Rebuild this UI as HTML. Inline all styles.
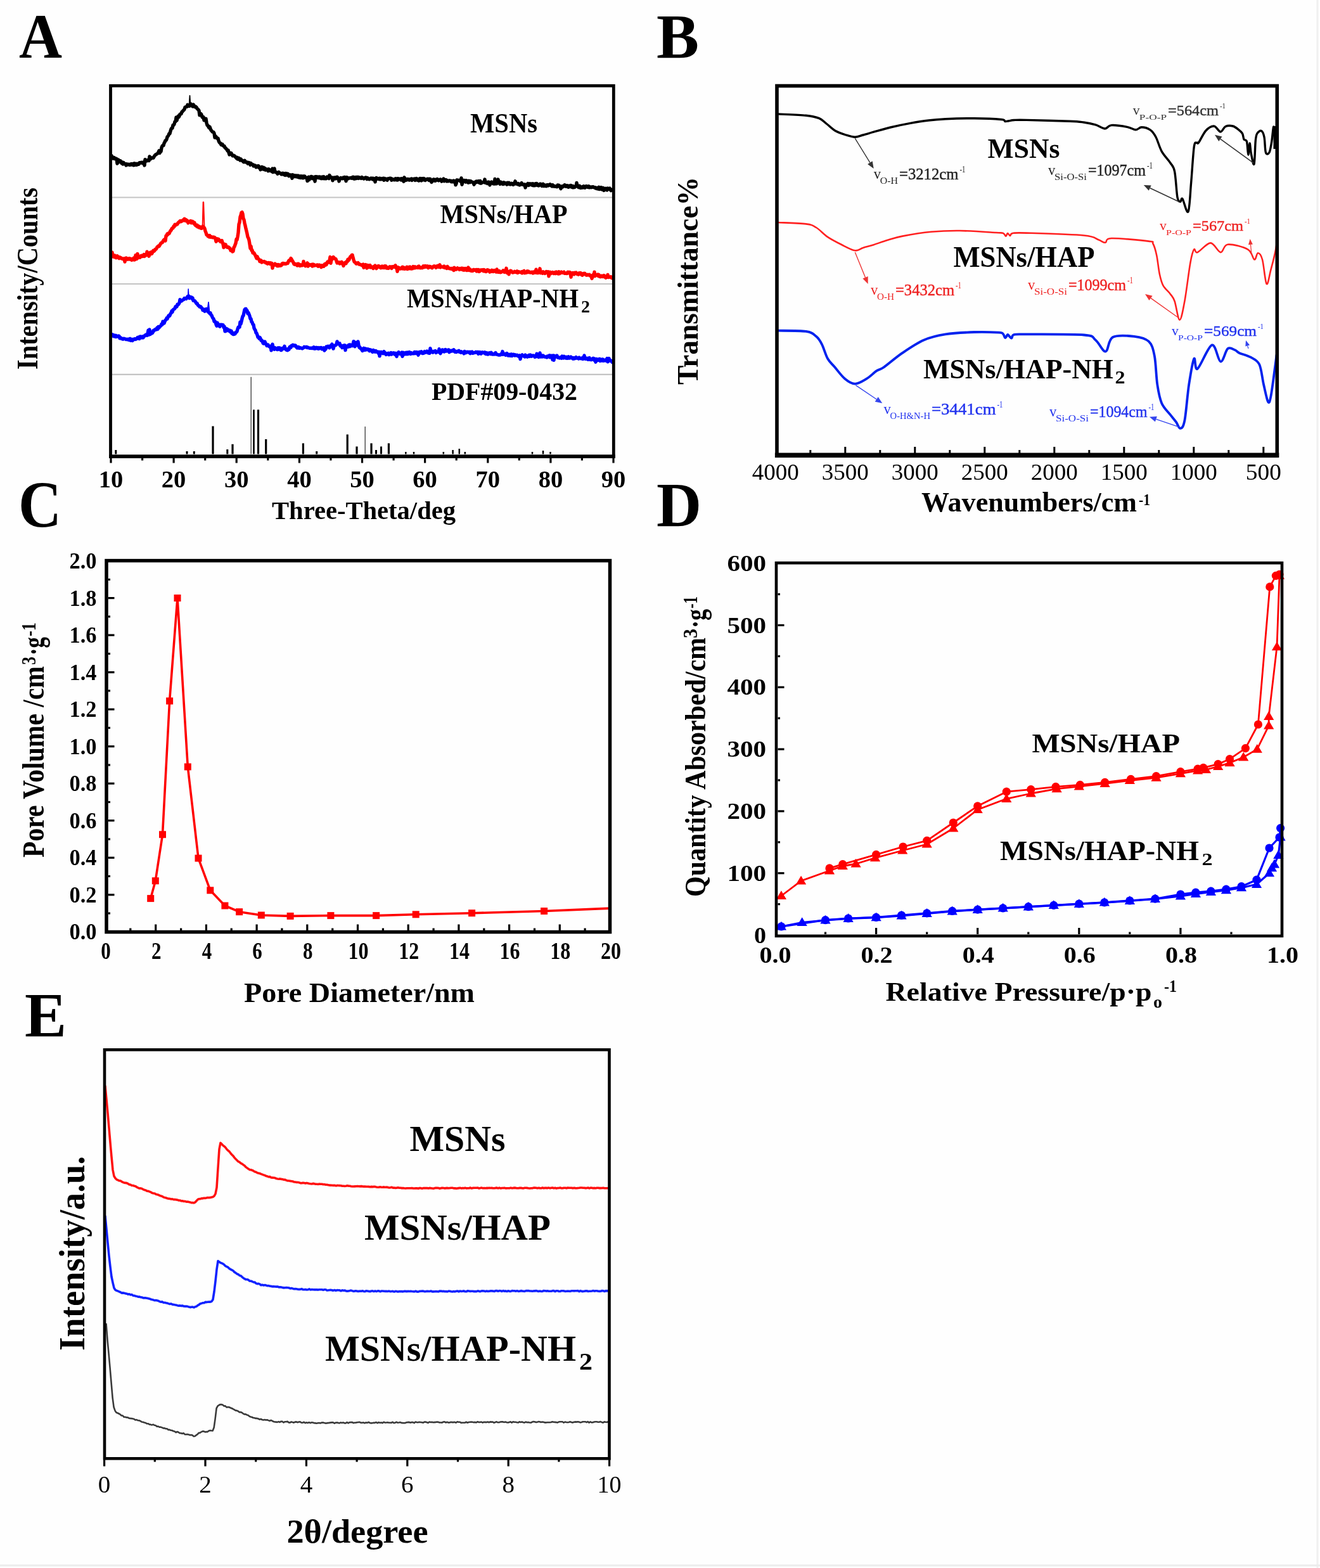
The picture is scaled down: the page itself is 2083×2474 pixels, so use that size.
<!DOCTYPE html>
<html><head><meta charset="utf-8"><title>Figure</title>
<style>html,body{margin:0;padding:0;background:#fefefe;overflow:hidden;}svg{display:block;}</style>
</head><body>
<svg width="2083" height="2474" viewBox="0 0 2083 2474" font-family="'Liberation Serif', 'Times New Roman', serif">
<rect x="0" y="0" width="2083" height="2474" fill="#fefefe"/>
<line x1="2079.0" y1="0.0" x2="2079.0" y2="2474.0" stroke="#f0f0f0" stroke-width="3.0"/>
<line x1="0.0" y1="2470.0" x2="2083.0" y2="2470.0" stroke="#ececec" stroke-width="3.0"/>
<text x="30.0" y="91.0" font-size="100.0" font-weight="bold" text-anchor="start" fill="#000" textLength="68.0" lengthAdjust="spacingAndGlyphs">A</text>
<text x="1036.0" y="91.0" font-size="100.0" font-weight="bold" text-anchor="start" fill="#000" textLength="67.0" lengthAdjust="spacingAndGlyphs">B</text>
<text x="29.0" y="831.0" font-size="104.0" font-weight="bold" text-anchor="start" fill="#000" textLength="68.0" lengthAdjust="spacingAndGlyphs">C</text>
<text x="1036.0" y="830.0" font-size="100.0" font-weight="bold" text-anchor="start" fill="#000" textLength="71.0" lengthAdjust="spacingAndGlyphs">D</text>
<text x="39.0" y="1635.0" font-size="100.0" font-weight="bold" text-anchor="start" fill="#000" textLength="66.0" lengthAdjust="spacingAndGlyphs">E</text>
<line x1="177.0" y1="311.5" x2="966.0" y2="311.5" stroke="#c4c4c4" stroke-width="2.2"/>
<line x1="177.0" y1="448.0" x2="966.0" y2="448.0" stroke="#c4c4c4" stroke-width="2.2"/>
<line x1="177.0" y1="590.8" x2="966.0" y2="590.8" stroke="#c4c4c4" stroke-width="2.2"/>
<line x1="182.8" y1="716.5" x2="182.8" y2="710.0" stroke="#000" stroke-width="3.0"/>
<line x1="295.0" y1="716.5" x2="295.0" y2="712.0" stroke="#000" stroke-width="3.0"/>
<line x1="306.3" y1="716.5" x2="306.3" y2="712.0" stroke="#000" stroke-width="3.0"/>
<line x1="336.0" y1="716.5" x2="336.0" y2="672.4" stroke="#000" stroke-width="3.2"/>
<line x1="358.8" y1="716.5" x2="358.8" y2="709.0" stroke="#000" stroke-width="3.0"/>
<line x1="367.0" y1="716.5" x2="367.0" y2="700.8" stroke="#000" stroke-width="3.2"/>
<line x1="396.2" y1="716.5" x2="396.2" y2="594.8" stroke="#444" stroke-width="1.4"/>
<line x1="400.5" y1="716.5" x2="400.5" y2="646.4" stroke="#000" stroke-width="2.6"/>
<line x1="407.5" y1="716.5" x2="407.5" y2="646.4" stroke="#000" stroke-width="3.2"/>
<line x1="419.7" y1="716.5" x2="419.7" y2="693.0" stroke="#000" stroke-width="3.2"/>
<line x1="478.4" y1="716.5" x2="478.4" y2="699.4" stroke="#000" stroke-width="3.2"/>
<line x1="499.7" y1="716.5" x2="499.7" y2="712.0" stroke="#000" stroke-width="3.0"/>
<line x1="548.2" y1="716.5" x2="548.2" y2="685.5" stroke="#000" stroke-width="3.2"/>
<line x1="563.0" y1="716.5" x2="563.0" y2="704.5" stroke="#000" stroke-width="3.2"/>
<line x1="576.2" y1="716.5" x2="576.2" y2="673.0" stroke="#444" stroke-width="1.4"/>
<line x1="586.0" y1="716.5" x2="586.0" y2="699.4" stroke="#000" stroke-width="3.2"/>
<line x1="593.5" y1="716.5" x2="593.5" y2="710.0" stroke="#000" stroke-width="3.0"/>
<line x1="601.5" y1="716.5" x2="601.5" y2="704.5" stroke="#000" stroke-width="3.0"/>
<line x1="613.4" y1="716.5" x2="613.4" y2="699.4" stroke="#000" stroke-width="3.2"/>
<line x1="640.3" y1="716.5" x2="640.3" y2="713.0" stroke="#000" stroke-width="2.5"/>
<line x1="653.0" y1="716.5" x2="653.0" y2="713.0" stroke="#000" stroke-width="2.5"/>
<line x1="699.8" y1="716.5" x2="699.8" y2="713.0" stroke="#000" stroke-width="2.5"/>
<line x1="714.6" y1="716.5" x2="714.6" y2="710.0" stroke="#000" stroke-width="2.5"/>
<line x1="724.8" y1="716.5" x2="724.8" y2="708.0" stroke="#000" stroke-width="2.5"/>
<line x1="733.8" y1="716.5" x2="733.8" y2="713.0" stroke="#000" stroke-width="2.5"/>
<line x1="840.0" y1="716.5" x2="840.0" y2="713.0" stroke="#000" stroke-width="2.5"/>
<line x1="857.0" y1="716.5" x2="857.0" y2="711.0" stroke="#000" stroke-width="2.5"/>
<line x1="868.5" y1="716.5" x2="868.5" y2="713.0" stroke="#000" stroke-width="2.5"/>
<polyline points="176.0,245.6 177.0,247.4 178.0,249.9 179.0,248.8 180.0,248.5 181.0,250.5 182.0,250.0 183.0,250.2 184.0,250.5 185.0,258.1 186.0,251.8 187.0,252.1 188.0,255.4 189.0,254.0 190.0,253.8 191.0,255.5 192.0,257.7 193.0,255.9 194.0,258.9 195.0,256.5 196.0,258.5 197.0,258.2 198.0,258.8 199.0,260.9 200.0,258.7 201.0,259.3 202.0,259.9 203.0,259.1 204.0,259.3 205.0,260.3 206.0,259.6 207.0,258.5 208.0,260.0 209.0,258.6 210.0,260.3 211.0,260.7 212.0,257.7 213.0,260.2 214.0,259.6 215.0,258.4 216.0,260.2 217.0,258.4 218.0,258.0 219.0,259.1 220.0,256.7 221.0,256.8 222.0,257.0 223.0,256.2 224.0,256.5 225.0,257.5 226.0,256.2 227.0,255.7 228.0,260.9 229.0,251.6 230.0,254.4 231.0,253.5 232.0,253.8 233.0,252.6 234.0,253.4 235.0,253.5 236.0,247.0 237.0,247.9 238.0,250.6 239.0,249.7 240.0,249.2 241.0,248.9 242.0,249.2 243.0,247.4 244.0,245.7 245.0,244.5 246.0,244.0 247.0,243.2 248.0,242.6 249.0,241.6 250.0,240.2 251.0,237.7 252.0,241.6 253.0,238.7 254.0,239.0 255.0,233.0 256.0,230.4 257.0,229.4 258.0,229.6 259.0,225.9 260.0,224.3 261.0,221.6 262.0,221.6 263.0,219.6 264.0,215.9 265.0,215.0 266.0,213.3 267.0,210.6 268.0,210.7 269.0,206.9 270.0,203.7 271.0,202.1 272.0,202.2 273.0,197.4 274.0,197.6 275.0,195.7 276.0,192.0 277.0,191.8 278.0,185.3 279.0,190.1 280.0,186.3 281.0,183.4 282.0,184.8 283.0,183.2 284.0,180.2 285.0,179.9 286.0,179.6 287.0,176.6 288.0,176.0 289.0,174.5 290.0,173.7 291.0,172.5 292.0,169.2 293.0,169.0 294.0,168.4 295.0,168.4 296.0,165.3 297.0,165.8 298.0,166.4 299.0,167.4 300.0,165.9 301.0,163.9 302.0,166.0 303.0,166.4 304.0,168.0 305.0,164.9 306.0,166.3 307.0,168.4 308.0,169.0 309.0,168.3 310.0,169.3 311.0,171.3 312.0,172.2 313.0,173.1 314.0,174.5 315.0,181.9 316.0,179.6 317.0,179.5 318.0,181.0 319.0,184.5 320.0,185.5 321.0,184.9 322.0,189.7 323.0,189.2 324.0,190.3 325.0,187.4 326.0,194.0 327.0,197.5 328.0,198.0 329.0,200.2 330.0,201.7 331.0,200.2 332.0,202.9 333.0,205.5 334.0,206.3 335.0,208.0 336.0,208.2 337.0,208.6 338.0,210.3 339.0,217.0 340.0,214.8 341.0,215.7 342.0,217.9 343.0,218.3 344.0,218.3 345.0,222.1 346.0,224.4 347.0,225.7 348.0,226.0 349.0,228.6 350.0,228.6 351.0,227.6 352.0,229.9 353.0,230.6 354.0,230.4 355.0,233.0 356.0,233.4 357.0,234.9 358.0,235.8 359.0,238.0 360.0,237.0 361.0,240.7 362.0,243.9 363.0,241.1 364.0,241.3 365.0,241.7 366.0,244.4 367.0,245.8 368.0,244.9 369.0,245.5 370.0,245.8 371.0,247.5 372.0,247.6 373.0,249.4 374.0,248.3 375.0,251.0 376.0,251.2 377.0,249.3 378.0,251.1 379.0,252.9 380.0,251.0 381.0,252.3 382.0,253.4 383.0,253.8 384.0,255.3 385.0,255.8 386.0,253.2 387.0,254.5 388.0,255.6 389.0,256.5 390.0,256.1 391.0,258.1 392.0,256.5 393.0,256.7 394.0,257.2 395.0,260.1 396.0,257.5 397.0,259.0 398.0,259.4 399.0,259.6 400.0,261.9 401.0,260.6 402.0,261.4 403.0,261.3 404.0,263.9 405.0,263.7 406.0,262.8 407.0,261.7 408.0,261.9 409.0,264.8 410.0,264.8 411.0,267.6 412.0,263.8 413.0,263.4 414.0,266.8 415.0,266.6 416.0,264.3 417.0,267.5 418.0,265.4 419.0,268.1 420.0,267.7 421.0,266.9 422.0,267.3 423.0,269.7 424.0,266.8 425.0,267.7 426.0,269.3 427.0,268.9 428.0,268.2 429.0,270.6 430.0,266.1 431.0,271.7 432.0,269.3 433.0,265.9 434.0,271.0 435.0,271.7 436.0,271.8 437.0,272.5 438.0,274.3 439.0,272.9 440.0,271.6 441.0,272.7 442.0,273.6 443.0,273.5 444.0,275.0 445.0,273.6 446.0,273.3 447.0,275.2 448.0,275.7 449.0,273.9 450.0,276.5 451.0,273.5 452.0,274.0 453.0,276.1 454.0,274.1 455.0,274.7 456.0,277.8 457.0,276.5 458.0,276.0 459.0,276.0 460.0,278.4 461.0,281.3 462.0,275.8 463.0,278.6 464.0,277.4 465.0,276.8 466.0,278.6 467.0,277.9 468.0,277.1 469.0,279.2 470.0,277.3 471.0,277.2 472.0,280.0 473.0,279.1 474.0,280.5 475.0,277.8 476.0,279.0 477.0,280.6 478.0,278.1 479.0,280.7 480.0,277.9 481.0,278.1 482.0,280.1 483.0,280.3 484.0,280.5 485.0,285.6 486.0,281.1 487.0,279.2 488.0,283.7 489.0,279.7 490.0,279.2 491.0,278.5 492.0,278.6 493.0,281.8 494.0,279.4 495.0,281.5 496.0,279.5 497.0,286.2 498.0,278.8 499.0,279.2 500.0,278.8 501.0,279.5 502.0,280.5 503.0,279.2 504.0,278.9 505.0,281.0 506.0,279.4 507.0,281.7 508.0,280.6 509.0,279.1 510.0,281.6 511.0,278.9 512.0,281.8 513.0,281.9 514.0,280.7 515.0,281.7 516.0,279.1 517.0,279.7 518.0,280.9 519.0,281.6 520.0,276.6 521.0,279.1 522.0,279.4 523.0,280.7 524.0,280.3 525.0,284.8 526.0,280.3 527.0,282.4 528.0,280.0 529.0,280.5 530.0,281.9 531.0,279.6 532.0,279.2 533.0,280.5 534.0,280.9 535.0,285.9 536.0,282.6 537.0,281.8 538.0,280.6 539.0,281.1 540.0,281.9 541.0,281.9 542.0,280.2 543.0,280.9 544.0,279.7 545.0,281.3 546.0,285.7 547.0,279.7 548.0,280.2 549.0,282.1 550.0,281.1 551.0,280.9 552.0,281.0 553.0,280.6 554.0,280.5 555.0,281.2 556.0,280.0 557.0,279.3 558.0,281.9 559.0,279.7 560.0,282.1 561.0,281.7 562.0,279.5 563.0,281.4 564.0,279.5 565.0,279.5 566.0,281.4 567.0,279.9 568.0,280.3 569.0,281.0 570.0,281.4 571.0,279.6 572.0,280.5 573.0,281.3 574.0,282.0 575.0,280.7 576.0,280.7 577.0,279.9 578.0,280.5 579.0,282.6 580.0,280.6 581.0,282.6 582.0,282.6 583.0,282.9 584.0,282.1 585.0,281.2 586.0,281.1 587.0,281.5 588.0,283.0 589.0,281.3 590.0,282.7 591.0,283.4 592.0,287.0 593.0,281.2 594.0,280.5 595.0,281.3 596.0,282.2 597.0,281.7 598.0,282.6 599.0,281.3 600.0,283.0 601.0,281.7 602.0,282.8 603.0,282.9 604.0,281.7 605.0,281.2 606.0,284.3 607.0,281.6 608.0,283.1 609.0,282.4 610.0,283.7 611.0,284.3 612.0,282.0 613.0,281.8 614.0,281.8 615.0,281.2 616.0,281.7 617.0,281.4 618.0,284.3 619.0,282.2 620.0,283.6 621.0,283.4 622.0,283.8 623.0,283.9 624.0,281.7 625.0,283.1 626.0,283.9 627.0,281.8 628.0,283.9 629.0,281.9 630.0,282.7 631.0,282.9 632.0,282.1 633.0,284.0 634.0,281.7 635.0,282.6 636.0,282.0 637.0,286.4 638.0,280.0 639.0,281.8 640.0,284.5 641.0,283.2 642.0,283.9 643.0,282.6 644.0,283.2 645.0,282.8 646.0,284.2 647.0,283.7 648.0,282.8 649.0,282.0 650.0,284.4 651.0,282.7 652.0,282.4 653.0,282.9 654.0,282.2 655.0,284.5 656.0,282.1 657.0,281.6 658.0,284.1 659.0,284.2 660.0,282.7 661.0,285.1 662.0,284.3 663.0,281.5 664.0,282.5 665.0,285.0 666.0,281.7 667.0,281.6 668.0,283.7 669.0,281.6 670.0,283.5 671.0,284.5 672.0,283.0 673.0,283.4 674.0,282.6 675.0,282.2 676.0,283.5 677.0,284.5 678.0,282.2 679.0,282.6 680.0,285.1 681.0,287.4 682.0,284.8 683.0,285.4 684.0,282.9 685.0,283.2 686.0,285.3 687.0,285.4 688.0,283.3 689.0,283.2 690.0,282.5 691.0,284.4 692.0,284.9 693.0,284.0 694.0,283.5 695.0,283.0 696.0,284.3 697.0,286.2 698.0,284.1 699.0,285.2 700.0,282.0 701.0,285.8 702.0,283.9 703.0,283.9 704.0,283.7 705.0,286.0 706.0,284.8 707.0,285.7 708.0,285.9 709.0,284.9 710.0,285.0 711.0,285.4 712.0,286.7 713.0,285.5 714.0,286.7 715.0,286.8 716.0,285.0 717.0,287.3 718.0,285.8 719.0,291.8 720.0,289.7 721.0,283.9 722.0,284.3 723.0,284.7 724.0,284.5 725.0,284.6 726.0,285.6 727.0,286.5 728.0,281.0 729.0,291.2 730.0,286.9 731.0,285.6 732.0,284.6 733.0,286.5 734.0,284.9 735.0,287.3 736.0,284.8 737.0,285.8 738.0,286.7 739.0,288.2 740.0,285.2 741.0,286.3 742.0,287.6 743.0,285.9 744.0,286.9 745.0,287.2 746.0,287.6 747.0,288.4 748.0,291.2 749.0,288.1 750.0,287.1 751.0,287.9 752.0,286.2 753.0,286.9 754.0,287.4 755.0,285.7 756.0,286.2 757.0,288.7 758.0,285.6 759.0,289.2 760.0,288.0 761.0,288.0 762.0,287.8 763.0,287.3 764.0,286.6 765.0,283.0 766.0,288.5 767.0,288.5 768.0,288.8 769.0,289.5 770.0,287.1 771.0,287.2 772.0,288.7 773.0,291.9 774.0,287.7 775.0,288.5 776.0,287.1 777.0,288.2 778.0,289.6 779.0,288.0 780.0,290.1 781.0,282.4 782.0,290.0 783.0,287.3 784.0,289.7 785.0,288.7 786.0,283.1 787.0,288.1 788.0,289.1 789.0,290.4 790.0,287.1 791.0,289.2 792.0,289.9 793.0,288.3 794.0,290.6 795.0,287.8 796.0,290.0 797.0,288.5 798.0,288.9 799.0,289.3 800.0,291.1 801.0,288.3 802.0,289.0 803.0,288.4 804.0,290.8 805.0,289.9 806.0,290.9 807.0,289.3 808.0,289.7 809.0,289.6 810.0,291.4 811.0,289.9 812.0,288.5 813.0,285.9 814.0,290.1 815.0,289.1 816.0,290.3 817.0,290.9 818.0,289.6 819.0,291.6 820.0,292.0 821.0,291.4 822.0,290.5 823.0,288.7 824.0,291.0 825.0,290.7 826.0,291.7 827.0,290.9 828.0,291.0 829.0,296.0 830.0,291.8 831.0,291.0 832.0,292.0 833.0,289.5 834.0,292.5 835.0,291.9 836.0,289.9 837.0,291.3 838.0,290.0 839.0,290.2 840.0,292.3 841.0,289.7 842.0,292.8 843.0,292.3 844.0,292.7 845.0,289.8 846.0,291.3 847.0,289.6 848.0,292.4 849.0,291.3 850.0,292.9 851.0,292.3 852.0,290.1 853.0,290.1 854.0,291.1 855.0,293.4 856.0,293.1 857.0,290.3 858.0,293.6 859.0,293.5 860.0,292.0 861.0,292.8 862.0,293.7 863.0,291.7 864.0,291.8 865.0,293.0 866.0,292.7 867.0,291.4 868.0,290.8 869.0,291.5 870.0,293.3 871.0,293.9 872.0,291.8 873.0,294.0 874.0,294.0 875.0,293.4 876.0,294.3 877.0,294.2 878.0,293.8 879.0,294.7 880.0,292.1 881.0,293.9 882.0,292.4 883.0,293.1 884.0,294.9 885.0,297.7 886.0,294.6 887.0,293.8 888.0,295.0 889.0,294.1 890.0,293.9 891.0,291.7 892.0,292.7 893.0,294.2 894.0,294.2 895.0,292.7 896.0,293.1 897.0,295.3 898.0,293.7 899.0,293.0 900.0,294.4 901.0,292.7 902.0,295.2 903.0,295.7 904.0,293.5 905.0,295.7 906.0,295.1 907.0,295.4 908.0,294.0 909.0,293.9 910.0,288.5 911.0,293.9 912.0,293.4 913.0,295.6 914.0,293.2 915.0,293.5 916.0,296.5 917.0,295.3 918.0,296.2 919.0,294.8 920.0,296.0 921.0,293.7 922.0,294.3 923.0,296.3 924.0,295.1 925.0,293.6 926.0,293.8 927.0,295.2 928.0,294.2 929.0,293.7 930.0,295.9 931.0,295.4 932.0,295.0 933.0,295.7 934.0,294.9 935.0,295.2 936.0,294.8 937.0,295.7 938.0,296.0 939.0,295.7 940.0,297.0 941.0,296.3 942.0,297.7 943.0,297.8 944.0,298.0 945.0,295.3 946.0,298.6 947.0,298.2 948.0,295.6 949.0,295.6 950.0,299.1 951.0,297.0 952.0,296.5 953.0,300.5 954.0,298.2 955.0,298.7 956.0,297.3 957.0,299.6 958.0,299.9 959.0,297.1 960.0,298.3 961.0,297.8 962.0,297.2 963.0,298.9 964.0,300.6 965.0,299.2 966.0,299.9" fill="none" stroke="#000" stroke-width="5.4" stroke-linejoin="round" stroke-linecap="round"/>
<polyline points="298.5,166.0 299.5,151.0 300.5,166.0" fill="none" stroke="#000" stroke-width="1.8" stroke-linejoin="round" stroke-linecap="round"/>
<polyline points="176.0,405.1 177.0,398.1 178.0,404.1 179.0,405.1 180.0,403.0 181.0,403.0 182.0,406.1 183.0,406.7 184.0,406.6 185.0,403.9 186.0,405.0 187.0,406.6 188.0,407.6 189.0,405.9 190.0,406.5 191.0,406.8 192.0,408.1 193.0,407.9 194.0,408.8 195.0,407.9 196.0,408.0 197.0,413.0 198.0,407.4 199.0,407.0 200.0,408.7 201.0,409.3 202.0,408.0 203.0,408.9 204.0,407.7 205.0,407.9 206.0,409.5 207.0,408.7 208.0,410.3 209.0,409.5 210.0,408.7 211.0,407.2 212.0,410.0 213.0,409.5 214.0,402.7 215.0,406.0 216.0,408.5 217.0,400.5 218.0,405.0 219.0,406.3 220.0,405.5 221.0,406.2 222.0,404.0 223.0,403.3 224.0,404.6 225.0,404.6 226.0,403.3 227.0,401.7 228.0,404.4 229.0,401.7 230.0,403.0 231.0,402.6 232.0,397.2 233.0,399.6 234.0,399.3 235.0,404.2 236.0,400.8 237.0,398.5 238.0,398.0 239.0,400.5 240.0,399.8 241.0,396.5 242.0,395.3 243.0,396.3 244.0,395.5 245.0,393.3 246.0,393.4 247.0,392.0 248.0,389.8 249.0,389.1 250.0,388.1 251.0,388.6 252.0,387.0 253.0,385.2 254.0,383.6 255.0,382.9 256.0,382.9 257.0,381.2 258.0,379.2 259.0,378.1 260.0,377.4 261.0,380.0 262.0,372.2 263.0,371.9 264.0,369.0 265.0,369.8 266.0,368.0 267.0,368.3 268.0,366.2 269.0,364.0 270.0,363.4 271.0,361.0 272.0,360.0 273.0,360.0 274.0,357.0 275.0,357.5 276.0,354.3 277.0,355.1 278.0,354.9 279.0,353.6 280.0,353.7 281.0,351.5 282.0,350.7 283.0,350.4 284.0,348.6 285.0,348.4 286.0,349.5 287.0,348.8 288.0,348.2 289.0,347.0 290.0,347.6 291.0,345.2 292.0,348.0 293.0,346.4 294.0,348.7 295.0,347.7 296.0,349.0 297.0,351.8 298.0,349.4 299.0,349.3 300.0,349.8 301.0,348.6 302.0,351.7 303.0,350.9 304.0,349.4 305.0,350.7 306.0,353.0 307.0,351.4 308.0,355.1 309.0,355.7 310.0,356.8 311.0,355.0 312.0,357.9 313.0,356.8 314.0,359.0 315.0,357.7 316.0,359.3 317.0,360.1 318.0,360.3 319.0,358.2 320.0,357.0 321.0,359.0 322.0,359.0 323.0,360.6 324.0,364.5 325.0,367.1 326.0,370.6 327.0,370.6 328.0,372.7 329.0,371.8 330.0,373.7 331.0,371.6 332.0,374.2 333.0,374.0 334.0,373.7 335.0,374.7 336.0,374.3 337.0,374.0 338.0,375.0 339.0,374.7 340.0,377.0 341.0,381.2 342.0,378.6 343.0,376.9 344.0,378.9 345.0,377.4 346.0,379.2 347.0,380.4 348.0,381.4 349.0,380.8 350.0,379.5 351.0,382.4 352.0,385.3 353.0,390.5 354.0,385.2 355.0,387.3 356.0,385.8 357.0,388.5 358.0,390.0 359.0,390.3 360.0,389.7 361.0,390.2 362.0,391.8 363.0,391.8 364.0,395.3 365.0,394.7 366.0,394.3 367.0,397.0 368.0,396.4 369.0,390.5 370.0,389.2 371.0,386.3 372.0,383.8 373.0,377.6 374.0,378.4 375.0,373.5 376.0,367.3 377.0,353.9 378.0,350.9 379.0,342.5 380.0,339.6 381.0,335.5 382.0,334.8 383.0,337.4 384.0,344.8 385.0,346.8 386.0,352.1 387.0,356.0 388.0,360.7 389.0,364.6 390.0,368.9 391.0,374.0 392.0,375.7 393.0,378.9 394.0,384.9 395.0,391.9 396.0,388.5 397.0,395.0 398.0,394.7 399.0,399.1 400.0,398.4 401.0,399.3 402.0,401.4 403.0,403.1 404.0,405.4 405.0,407.7 406.0,404.8 407.0,407.8 408.0,408.3 409.0,409.8 410.0,412.5 411.0,412.7 412.0,410.9 413.0,414.0 414.0,413.4 415.0,412.7 416.0,413.0 417.0,412.4 418.0,413.4 419.0,414.6 420.0,414.0 421.0,415.2 422.0,416.1 423.0,414.6 424.0,414.5 425.0,415.4 426.0,416.5 427.0,414.8 428.0,416.3 429.0,415.5 430.0,423.1 431.0,417.6 432.0,418.7 433.0,418.0 434.0,416.1 435.0,417.9 436.0,417.6 437.0,419.3 438.0,417.7 439.0,419.7 440.0,417.6 441.0,419.2 442.0,418.6 443.0,419.2 444.0,418.7 445.0,416.1 446.0,415.4 447.0,415.4 448.0,416.4 449.0,416.0 450.0,415.9 451.0,416.4 452.0,415.7 453.0,415.3 454.0,415.5 455.0,412.8 456.0,411.0 457.0,410.5 458.0,411.0 459.0,407.6 460.0,409.1 461.0,411.0 462.0,412.3 463.0,414.4 464.0,416.8 465.0,417.2 466.0,416.5 467.0,416.6 468.0,417.9 469.0,419.0 470.0,416.2 471.0,416.1 472.0,418.9 473.0,419.4 474.0,417.9 475.0,418.9 476.0,417.8 477.0,418.8 478.0,418.4 479.0,412.4 480.0,417.4 481.0,416.9 482.0,419.6 483.0,417.0 484.0,417.2 485.0,414.9 486.0,420.1 487.0,418.3 488.0,417.3 489.0,418.2 490.0,418.5 491.0,417.6 492.0,417.3 493.0,420.0 494.0,417.1 495.0,417.4 496.0,419.2 497.0,418.7 498.0,418.4 499.0,418.8 500.0,418.2 501.0,417.9 502.0,420.3 503.0,419.9 504.0,418.1 505.0,418.7 506.0,419.2 507.0,421.6 508.0,418.9 509.0,419.8 510.0,420.2 511.0,420.3 512.0,417.0 513.0,416.4 514.0,418.1 515.0,417.6 516.0,414.7 517.0,413.0 518.0,414.2 519.0,413.1 520.0,410.9 521.0,405.6 522.0,415.2 523.0,407.6 524.0,409.3 525.0,406.7 526.0,405.6 527.0,406.7 528.0,407.7 529.0,408.6 530.0,408.7 531.0,411.9 532.0,415.0 533.0,414.7 534.0,414.1 535.0,413.7 536.0,416.0 537.0,415.0 538.0,415.4 539.0,413.3 540.0,415.8 541.0,416.6 542.0,419.4 543.0,416.4 544.0,414.5 545.0,415.4 546.0,415.7 547.0,412.5 548.0,412.9 549.0,409.3 550.0,410.7 551.0,409.5 552.0,406.7 553.0,404.9 554.0,405.2 555.0,402.7 556.0,402.2 557.0,406.3 558.0,409.8 559.0,412.8 560.0,413.8 561.0,414.4 562.0,416.0 563.0,416.2 564.0,415.6 565.0,414.6 566.0,415.9 567.0,417.3 568.0,416.9 569.0,417.6 570.0,417.9 571.0,418.7 572.0,417.8 573.0,417.0 574.0,422.3 575.0,418.4 576.0,419.5 577.0,417.6 578.0,420.1 579.0,423.0 580.0,418.4 581.0,419.2 582.0,421.5 583.0,421.3 584.0,418.6 585.0,421.9 586.0,420.7 587.0,421.3 588.0,421.5 589.0,423.5 590.0,420.5 591.0,422.0 592.0,419.1 593.0,421.6 594.0,423.6 595.0,421.6 596.0,421.6 597.0,419.5 598.0,419.8 599.0,421.1 600.0,422.1 601.0,422.7 602.0,420.4 603.0,420.0 604.0,422.3 605.0,420.8 606.0,422.5 607.0,419.7 608.0,422.1 609.0,419.9 610.0,422.9 611.0,422.6 612.0,423.3 613.0,423.4 614.0,421.6 615.0,420.8 616.0,421.0 617.0,421.0 618.0,423.4 619.0,420.7 620.0,421.7 621.0,420.7 622.0,420.3 623.0,421.2 624.0,418.8 625.0,422.7 626.0,422.2 627.0,428.3 628.0,421.7 629.0,422.3 630.0,424.2 631.0,423.0 632.0,424.0 633.0,423.0 634.0,423.4 635.0,421.3 636.0,424.0 637.0,421.9 638.0,424.1 639.0,424.3 640.0,423.1 641.0,422.9 642.0,421.3 643.0,424.6 644.0,421.5 645.0,423.0 646.0,423.7 647.0,421.1 648.0,421.6 649.0,424.1 650.0,422.2 651.0,423.7 652.0,420.6 653.0,422.4 654.0,422.9 655.0,420.9 656.0,422.5 657.0,421.8 658.0,421.7 659.0,422.4 660.0,420.4 661.0,420.1 662.0,422.5 663.0,421.8 664.0,422.8 665.0,422.2 666.0,422.7 667.0,421.2 668.0,419.9 669.0,421.8 670.0,421.1 671.0,419.5 672.0,421.1 673.0,420.4 674.0,419.8 675.0,420.8 676.0,422.6 677.0,420.2 678.0,421.2 679.0,420.5 680.0,421.1 681.0,422.4 682.0,422.8 683.0,421.4 684.0,420.3 685.0,419.7 686.0,420.8 687.0,420.5 688.0,422.3 689.0,420.1 690.0,420.6 691.0,419.3 692.0,421.3 693.0,419.7 694.0,417.8 695.0,421.9 696.0,420.6 697.0,420.9 698.0,421.0 699.0,421.3 700.0,421.8 701.0,420.1 702.0,422.5 703.0,422.6 704.0,422.3 705.0,423.4 706.0,420.4 707.0,421.9 708.0,422.9 709.0,423.8 710.0,423.5 711.0,423.7 712.0,424.4 713.0,423.4 714.0,423.5 715.0,425.0 716.0,426.5 717.0,422.3 718.0,425.3 719.0,424.1 720.0,425.0 721.0,424.0 722.0,422.9 723.0,423.6 724.0,424.1 725.0,425.4 726.0,423.5 727.0,424.5 728.0,425.0 729.0,423.2 730.0,425.3 731.0,426.0 732.0,423.6 733.0,426.1 734.0,424.6 735.0,423.6 736.0,426.3 737.0,426.6 738.0,425.1 739.0,422.1 740.0,426.5 741.0,424.8 742.0,425.0 743.0,427.2 744.0,427.0 745.0,427.5 746.0,427.4 747.0,425.5 748.0,425.5 749.0,426.3 750.0,426.2 751.0,425.6 752.0,427.9 753.0,425.5 754.0,427.6 755.0,425.5 756.0,428.5 757.0,428.1 758.0,426.1 759.0,425.9 760.0,426.5 761.0,425.8 762.0,425.9 763.0,427.8 764.0,425.6 765.0,428.0 766.0,427.2 767.0,428.5 768.0,426.5 769.0,425.8 770.0,427.4 771.0,426.3 772.0,427.3 773.0,429.1 774.0,427.6 775.0,428.1 776.0,426.2 777.0,428.4 778.0,427.8 779.0,428.4 780.0,426.6 781.0,427.3 782.0,427.6 783.0,429.1 784.0,424.9 785.0,427.6 786.0,429.3 787.0,428.4 788.0,427.6 789.0,429.7 790.0,429.7 791.0,429.4 792.0,428.9 793.0,427.9 794.0,426.7 795.0,427.2 796.0,429.5 797.0,427.7 798.0,428.1 799.0,423.3 800.0,430.5 801.0,429.2 802.0,430.1 803.0,432.7 804.0,428.1 805.0,427.5 806.0,427.1 807.0,427.8 808.0,429.5 809.0,430.0 810.0,429.9 811.0,429.7 812.0,428.4 813.0,429.0 814.0,429.5 815.0,429.7 816.0,427.8 817.0,430.5 818.0,428.7 819.0,428.8 820.0,429.3 821.0,429.5 822.0,429.8 823.0,428.8 824.0,430.9 825.0,429.4 826.0,427.9 827.0,427.4 828.0,430.7 829.0,429.9 830.0,430.4 831.0,429.4 832.0,427.9 833.0,429.6 834.0,428.2 835.0,428.9 836.0,429.8 837.0,430.1 838.0,429.5 839.0,429.3 840.0,429.4 841.0,431.0 842.0,428.9 843.0,429.0 844.0,430.2 845.0,428.8 846.0,425.2 847.0,430.4 848.0,428.6 849.0,430.6 850.0,428.9 851.0,429.9 852.0,423.8 853.0,430.7 854.0,429.7 855.0,430.4 856.0,431.2 857.0,428.7 858.0,429.6 859.0,430.0 860.0,431.3 861.0,430.6 862.0,428.5 863.0,429.5 864.0,430.9 865.0,428.7 866.0,435.9 867.0,430.2 868.0,429.4 869.0,431.7 870.0,431.0 871.0,430.8 872.0,429.6 873.0,430.2 874.0,431.5 875.0,430.7 876.0,429.7 877.0,431.6 878.0,429.0 879.0,430.9 880.0,431.1 881.0,432.0 882.0,428.8 883.0,431.6 884.0,431.0 885.0,430.4 886.0,429.2 887.0,430.2 888.0,430.3 889.0,430.1 890.0,429.2 891.0,431.3 892.0,431.1 893.0,431.2 894.0,431.5 895.0,431.5 896.0,429.2 897.0,430.7 898.0,429.5 899.0,429.4 900.0,430.7 901.0,437.2 902.0,431.0 903.0,431.7 904.0,430.5 905.0,430.8 906.0,432.9 907.0,430.3 908.0,430.7 909.0,430.0 910.0,432.0 911.0,432.6 912.0,431.7 913.0,433.1 914.0,430.8 915.0,431.1 916.0,430.6 917.0,432.1 918.0,433.8 919.0,434.2 920.0,431.7 921.0,432.4 922.0,431.3 923.0,431.5 924.0,433.3 925.0,433.9 926.0,434.2 927.0,433.3 928.0,433.9 929.0,433.5 930.0,433.3 931.0,435.1 932.0,435.2 933.0,435.0 934.0,439.4 935.0,437.2 936.0,433.4 937.0,434.8 938.0,429.2 939.0,435.7 940.0,433.4 941.0,433.6 942.0,433.9 943.0,433.2 944.0,435.5 945.0,433.4 946.0,436.3 947.0,436.6 948.0,436.7 949.0,435.3 950.0,435.3 951.0,436.6 952.0,436.6 953.0,434.6 954.0,435.5 955.0,437.5 956.0,438.2 957.0,436.0 958.0,436.8 959.0,433.4 960.0,437.6 961.0,437.2 962.0,437.2 963.0,437.0 964.0,436.7 965.0,438.5 966.0,438.8" fill="none" stroke="#ff0000" stroke-width="5.4" stroke-linejoin="round" stroke-linecap="round"/>
<polyline points="319.6,358.0 320.6,319.0 321.2,319.0 322.6,362.0" fill="none" stroke="#ff0000" stroke-width="1.9" stroke-linejoin="round" stroke-linecap="round"/>
<polyline points="176.0,527.7 177.0,527.6 178.0,528.1 179.0,530.6 180.0,528.9 181.0,530.6 182.0,531.3 183.0,529.3 184.0,531.3 185.0,530.7 186.0,530.6 187.0,529.9 188.0,530.4 189.0,533.7 190.0,532.6 191.0,533.2 192.0,534.5 193.0,534.4 194.0,535.2 195.0,534.1 196.0,534.3 197.0,534.6 198.0,535.1 199.0,535.6 200.0,535.4 201.0,535.1 202.0,535.9 203.0,536.3 204.0,534.8 205.0,534.4 206.0,537.1 207.0,536.0 208.0,535.3 209.0,537.5 210.0,536.1 211.0,535.9 212.0,534.8 213.0,534.9 214.0,535.5 215.0,534.4 216.0,534.3 217.0,532.6 218.0,533.8 219.0,532.1 220.0,534.4 221.0,531.0 222.0,531.0 223.0,531.4 224.0,532.8 225.0,531.2 226.0,532.7 227.0,530.4 228.0,529.7 229.0,529.8 230.0,528.2 231.0,528.7 232.0,529.2 233.0,526.6 234.0,521.2 235.0,528.3 236.0,520.0 237.0,527.6 238.0,525.3 239.0,525.4 240.0,525.8 241.0,524.5 242.0,521.6 243.0,521.9 244.0,520.4 245.0,519.7 246.0,519.1 247.0,519.9 248.0,517.1 249.0,519.2 250.0,515.4 251.0,517.0 252.0,515.4 253.0,514.7 254.0,513.8 255.0,511.2 256.0,512.1 257.0,507.3 258.0,509.3 259.0,510.0 260.0,507.3 261.0,505.2 262.0,504.4 263.0,501.9 264.0,503.1 265.0,500.4 266.0,498.0 267.0,498.8 268.0,497.8 269.0,495.0 270.0,494.1 271.0,490.8 272.0,492.3 273.0,488.7 274.0,488.1 275.0,487.5 276.0,486.5 277.0,483.8 278.0,484.1 279.0,483.8 280.0,480.3 281.0,480.6 282.0,479.8 283.0,477.9 284.0,472.7 285.0,474.4 286.0,475.1 287.0,474.5 288.0,473.6 289.0,472.8 290.0,472.6 291.0,470.5 292.0,470.9 293.0,471.1 294.0,471.5 295.0,469.7 296.0,467.8 297.0,468.9 298.0,467.1 299.0,470.5 300.0,468.5 301.0,469.8 302.0,469.2 303.0,471.1 304.0,470.2 305.0,474.4 306.0,474.3 307.0,474.6 308.0,475.5 309.0,477.2 310.0,478.8 311.0,478.5 312.0,480.9 313.0,482.2 314.0,482.4 315.0,484.1 316.0,484.2 317.0,484.0 318.0,485.7 319.0,486.4 320.0,489.3 321.0,488.2 322.0,490.1 323.0,491.1 324.0,488.1 325.0,490.5 326.0,487.4 327.0,488.0 328.0,489.9 329.0,492.4 330.0,493.5 331.0,494.4 332.0,493.8 333.0,497.0 334.0,497.4 335.0,500.2 336.0,502.0 337.0,503.1 338.0,507.1 339.0,506.8 340.0,508.3 341.0,511.9 342.0,514.3 343.0,509.2 344.0,512.7 345.0,512.0 346.0,514.5 347.0,515.2 348.0,512.3 349.0,512.9 350.0,512.3 351.0,512.6 352.0,512.6 353.0,516.5 354.0,515.2 355.0,522.7 356.0,522.6 357.0,518.3 358.0,520.4 359.0,519.4 360.0,521.7 361.0,521.8 362.0,521.2 363.0,523.3 364.0,524.0 365.0,522.1 366.0,526.3 367.0,524.9 368.0,527.6 369.0,527.3 370.0,527.3 371.0,526.7 372.0,524.3 373.0,524.2 374.0,522.9 375.0,519.1 376.0,516.3 377.0,516.6 378.0,516.1 379.0,508.1 380.0,511.2 381.0,507.3 382.0,502.8 383.0,499.1 384.0,498.0 385.0,493.4 386.0,488.8 387.0,487.6 388.0,487.2 389.0,489.8 390.0,490.0 391.0,494.7 392.0,493.4 393.0,495.9 394.0,498.6 395.0,503.0 396.0,503.0 397.0,507.8 398.0,508.5 399.0,511.7 400.0,512.3 401.0,517.8 402.0,519.7 403.0,521.1 404.0,525.1 405.0,525.8 406.0,528.6 407.0,532.1 408.0,531.8 409.0,534.1 410.0,532.3 411.0,534.1 412.0,537.2 413.0,536.9 414.0,538.0 415.0,541.3 416.0,542.1 417.0,541.8 418.0,539.0 419.0,542.2 420.0,542.6 421.0,545.4 422.0,544.8 423.0,544.1 424.0,546.1 425.0,546.8 426.0,547.5 427.0,546.3 428.0,552.8 429.0,548.5 430.0,543.2 431.0,547.9 432.0,550.3 433.0,551.2 434.0,548.8 435.0,550.0 436.0,549.8 437.0,551.3 438.0,551.6 439.0,548.7 440.0,549.3 441.0,548.9 442.0,551.3 443.0,552.3 444.0,552.5 445.0,549.7 446.0,549.5 447.0,550.2 448.0,549.8 449.0,546.3 450.0,550.6 451.0,550.4 452.0,552.1 453.0,551.5 454.0,552.6 455.0,550.2 456.0,551.4 457.0,547.6 458.0,546.8 459.0,548.3 460.0,545.5 461.0,545.3 462.0,544.2 463.0,544.6 464.0,545.8 465.0,545.2 466.0,544.9 467.0,546.0 468.0,548.0 469.0,548.9 470.0,547.6 471.0,547.5 472.0,549.4 473.0,549.4 474.0,548.7 475.0,549.1 476.0,549.3 477.0,549.9 478.0,549.3 479.0,548.6 480.0,547.3 481.0,547.9 482.0,547.8 483.0,547.4 484.0,547.5 485.0,548.6 486.0,548.2 487.0,548.7 488.0,549.1 489.0,549.3 490.0,549.2 491.0,549.1 492.0,549.5 493.0,549.2 494.0,549.7 495.0,547.7 496.0,549.0 497.0,550.2 498.0,549.3 499.0,548.3 500.0,549.6 501.0,549.9 502.0,548.6 503.0,550.2 504.0,549.1 505.0,548.6 506.0,549.5 507.0,548.7 508.0,550.8 509.0,549.7 510.0,550.2 511.0,548.8 512.0,553.0 513.0,550.2 514.0,550.7 515.0,547.1 516.0,548.1 517.0,546.4 518.0,546.3 519.0,546.7 520.0,548.8 521.0,546.4 522.0,545.2 523.0,546.5 524.0,543.1 525.0,547.1 526.0,550.1 527.0,545.9 528.0,545.3 529.0,544.8 530.0,544.6 531.0,543.0 532.0,538.9 533.0,541.7 534.0,542.8 535.0,542.5 536.0,541.9 537.0,545.8 538.0,545.1 539.0,546.9 540.0,548.7 541.0,548.2 542.0,545.2 543.0,546.4 544.0,544.8 545.0,552.6 546.0,546.0 547.0,547.2 548.0,546.5 549.0,547.3 550.0,544.5 551.0,544.1 552.0,546.7 553.0,544.0 554.0,545.3 555.0,544.5 556.0,545.7 557.0,543.7 558.0,538.7 559.0,541.9 560.0,546.8 561.0,540.3 562.0,540.5 563.0,544.1 564.0,544.7 565.0,538.9 566.0,544.8 567.0,548.2 568.0,547.8 569.0,549.9 570.0,550.3 571.0,552.0 572.0,553.5 573.0,551.5 574.0,549.4 575.0,550.7 576.0,552.3 577.0,550.1 578.0,551.8 579.0,551.7 580.0,550.8 581.0,551.0 582.0,552.0 583.0,553.7 584.0,551.8 585.0,552.1 586.0,553.1 587.0,554.3 588.0,555.5 589.0,552.4 590.0,554.5 591.0,553.7 592.0,555.1 593.0,553.5 594.0,555.0 595.0,554.7 596.0,555.4 597.0,557.2 598.0,555.2 599.0,561.9 600.0,556.8 601.0,555.4 602.0,555.4 603.0,556.9 604.0,557.6 605.0,556.6 606.0,554.6 607.0,557.7 608.0,556.8 609.0,559.4 610.0,558.2 611.0,558.8 612.0,557.5 613.0,557.2 614.0,559.6 615.0,557.6 616.0,558.9 617.0,556.6 618.0,559.1 619.0,557.5 620.0,557.6 621.0,556.8 622.0,557.2 623.0,559.2 624.0,557.4 625.0,559.3 626.0,562.5 627.0,557.2 628.0,557.5 629.0,555.7 630.0,558.2 631.0,558.5 632.0,558.3 633.0,557.2 634.0,556.1 635.0,562.4 636.0,556.1 637.0,558.5 638.0,557.3 639.0,558.8 640.0,556.5 641.0,556.3 642.0,558.7 643.0,556.0 644.0,558.5 645.0,558.1 646.0,555.5 647.0,556.9 648.0,558.5 649.0,556.7 650.0,557.7 651.0,557.8 652.0,557.8 653.0,557.9 654.0,555.4 655.0,555.5 656.0,557.5 657.0,556.9 658.0,555.7 659.0,557.4 660.0,560.1 661.0,557.3 662.0,555.3 663.0,556.0 664.0,556.6 665.0,554.9 666.0,557.0 667.0,557.5 668.0,557.4 669.0,557.0 670.0,554.6 671.0,556.2 672.0,556.0 673.0,555.8 674.0,554.1 675.0,554.6 676.0,557.0 677.0,554.5 678.0,557.3 679.0,549.7 680.0,555.5 681.0,553.9 682.0,554.9 683.0,556.1 684.0,554.4 685.0,554.3 686.0,554.4 687.0,553.5 688.0,556.5 689.0,555.4 690.0,555.3 691.0,554.7 692.0,555.5 693.0,550.7 694.0,555.3 695.0,557.7 696.0,555.5 697.0,555.0 698.0,551.9 699.0,552.5 700.0,554.0 701.0,554.9 702.0,552.0 703.0,551.5 704.0,554.1 705.0,553.9 706.0,553.7 707.0,552.2 708.0,552.0 709.0,555.7 710.0,553.3 711.0,553.3 712.0,553.9 713.0,554.1 714.0,552.8 715.0,552.9 716.0,551.8 717.0,554.5 718.0,555.2 719.0,554.4 720.0,555.5 721.0,554.4 722.0,554.7 723.0,553.8 724.0,553.3 725.0,555.4 726.0,555.4 727.0,556.2 728.0,554.9 729.0,555.7 730.0,555.8 731.0,556.0 732.0,557.8 733.0,554.4 734.0,555.5 735.0,556.8 736.0,556.2 737.0,555.1 738.0,555.3 739.0,555.8 740.0,555.2 741.0,556.7 742.0,557.7 743.0,555.2 744.0,555.6 745.0,555.1 746.0,557.3 747.0,556.5 748.0,556.8 749.0,556.1 750.0,556.2 751.0,555.4 752.0,556.2 753.0,555.8 754.0,555.3 755.0,558.3 756.0,556.3 757.0,555.7 758.0,557.7 759.0,558.3 760.0,557.2 761.0,555.7 762.0,556.1 763.0,556.7 764.0,557.0 765.0,555.8 766.0,558.4 767.0,558.6 768.0,556.6 769.0,558.9 770.0,559.1 771.0,557.4 772.0,556.8 773.0,557.9 774.0,558.5 775.0,556.3 776.0,558.7 777.0,558.0 778.0,559.1 779.0,558.6 780.0,558.9 781.0,557.7 782.0,556.6 783.0,559.1 784.0,559.1 785.0,559.4 786.0,559.8 787.0,560.0 788.0,559.9 789.0,560.1 790.0,559.7 791.0,558.4 792.0,559.1 793.0,554.6 794.0,559.2 795.0,558.4 796.0,559.1 797.0,558.4 798.0,560.3 799.0,559.4 800.0,557.7 801.0,560.0 802.0,561.0 803.0,560.5 804.0,559.4 805.0,561.4 806.0,561.2 807.0,558.9 808.0,561.5 809.0,559.6 810.0,559.1 811.0,559.3 812.0,561.0 813.0,559.8 814.0,560.7 815.0,560.7 816.0,560.2 817.0,561.3 818.0,562.1 819.0,562.4 820.0,560.9 821.0,566.5 822.0,562.7 823.0,560.9 824.0,559.9 825.0,561.1 826.0,561.6 827.0,562.2 828.0,563.0 829.0,560.1 830.0,561.7 831.0,561.9 832.0,563.1 833.0,561.3 834.0,562.5 835.0,560.3 836.0,562.4 837.0,560.1 838.0,560.9 839.0,562.2 840.0,561.4 841.0,560.9 842.0,561.1 843.0,561.3 844.0,563.3 845.0,562.6 846.0,562.8 847.0,558.2 848.0,560.8 849.0,560.2 850.0,563.4 851.0,561.5 852.0,557.0 853.0,563.1 854.0,561.5 855.0,561.1 856.0,562.9 857.0,561.0 858.0,561.8 859.0,562.8 860.0,563.1 861.0,562.9 862.0,563.6 863.0,563.9 864.0,562.0 865.0,562.2 866.0,562.9 867.0,560.8 868.0,563.8 869.0,561.1 870.0,561.2 871.0,562.0 872.0,567.4 873.0,561.0 874.0,568.3 875.0,561.3 876.0,562.2 877.0,563.2 878.0,562.7 879.0,561.2 880.0,563.9 881.0,564.3 882.0,564.2 883.0,565.0 884.0,564.4 885.0,563.5 886.0,565.2 887.0,562.1 888.0,563.9 889.0,564.9 890.0,562.2 891.0,564.4 892.0,564.1 893.0,565.0 894.0,563.3 895.0,565.3 896.0,564.0 897.0,562.9 898.0,565.0 899.0,565.0 900.0,564.7 901.0,563.2 902.0,564.4 903.0,565.0 904.0,565.9 905.0,564.5 906.0,566.0 907.0,565.7 908.0,564.5 909.0,563.5 910.0,565.0 911.0,564.9 912.0,564.9 913.0,566.0 914.0,564.1 915.0,565.2 916.0,565.5 917.0,565.8 918.0,565.7 919.0,564.6 920.0,566.4 921.0,565.8 922.0,561.0 923.0,565.6 924.0,566.4 925.0,566.1 926.0,565.1 927.0,565.3 928.0,567.3 929.0,566.9 930.0,564.6 931.0,567.3 932.0,566.6 933.0,567.6 934.0,566.9 935.0,566.0 936.0,565.3 937.0,567.9 938.0,566.0 939.0,567.5 940.0,571.2 941.0,566.4 942.0,566.8 943.0,568.5 944.0,567.1 945.0,568.1 946.0,566.3 947.0,569.5 948.0,566.9 949.0,569.0 950.0,568.8 951.0,566.9 952.0,569.2 953.0,567.9 954.0,568.9 955.0,568.3 956.0,569.0 957.0,568.3 958.0,565.5 959.0,570.8 960.0,568.5 961.0,565.5 962.0,569.2 963.0,568.3 964.0,569.1 965.0,570.0 966.0,571.3" fill="none" stroke="#0000ff" stroke-width="5.4" stroke-linejoin="round" stroke-linecap="round"/>
<polyline points="327.5,489.0 329.0,477.0 330.5,492.0" fill="none" stroke="#0000ff" stroke-width="1.8" stroke-linejoin="round" stroke-linecap="round"/>
<polyline points="296.5,470.0 297.2,456.0 298.0,470.0" fill="none" stroke="#0000ff" stroke-width="1.5" stroke-linejoin="round" stroke-linecap="round"/>
<rect x="174.5" y="135.3" width="793.8" height="584.7" fill="none" stroke="#000" stroke-width="4.8"/>
<line x1="172.1" y1="720.3" x2="970.8" y2="720.3" stroke="#000" stroke-width="5.4"/>
<line x1="175.0" y1="719.0" x2="175.0" y2="730.5" stroke="#000" stroke-width="3.2"/>
<line x1="224.6" y1="719.0" x2="224.6" y2="726.5" stroke="#000" stroke-width="3.2"/>
<line x1="274.1" y1="719.0" x2="274.1" y2="730.5" stroke="#000" stroke-width="3.2"/>
<line x1="323.7" y1="719.0" x2="323.7" y2="726.5" stroke="#000" stroke-width="3.2"/>
<line x1="373.2" y1="719.0" x2="373.2" y2="730.5" stroke="#000" stroke-width="3.2"/>
<line x1="422.8" y1="719.0" x2="422.8" y2="726.5" stroke="#000" stroke-width="3.2"/>
<line x1="472.4" y1="719.0" x2="472.4" y2="730.5" stroke="#000" stroke-width="3.2"/>
<line x1="521.9" y1="719.0" x2="521.9" y2="726.5" stroke="#000" stroke-width="3.2"/>
<line x1="571.5" y1="719.0" x2="571.5" y2="730.5" stroke="#000" stroke-width="3.2"/>
<line x1="621.1" y1="719.0" x2="621.1" y2="726.5" stroke="#000" stroke-width="3.2"/>
<line x1="670.6" y1="719.0" x2="670.6" y2="730.5" stroke="#000" stroke-width="3.2"/>
<line x1="720.2" y1="719.0" x2="720.2" y2="726.5" stroke="#000" stroke-width="3.2"/>
<line x1="769.8" y1="719.0" x2="769.8" y2="730.5" stroke="#000" stroke-width="3.2"/>
<line x1="819.3" y1="719.0" x2="819.3" y2="726.5" stroke="#000" stroke-width="3.2"/>
<line x1="868.9" y1="719.0" x2="868.9" y2="730.5" stroke="#000" stroke-width="3.2"/>
<line x1="918.4" y1="719.0" x2="918.4" y2="726.5" stroke="#000" stroke-width="3.2"/>
<line x1="968.0" y1="719.0" x2="968.0" y2="730.5" stroke="#000" stroke-width="3.2"/>
<text x="175.0" y="769.0" font-size="37.0" font-weight="bold" text-anchor="middle" fill="#000" textLength="38.5" lengthAdjust="spacingAndGlyphs">10</text>
<text x="274.1" y="769.0" font-size="37.0" font-weight="bold" text-anchor="middle" fill="#000" textLength="38.5" lengthAdjust="spacingAndGlyphs">20</text>
<text x="373.2" y="769.0" font-size="37.0" font-weight="bold" text-anchor="middle" fill="#000" textLength="38.5" lengthAdjust="spacingAndGlyphs">30</text>
<text x="472.4" y="769.0" font-size="37.0" font-weight="bold" text-anchor="middle" fill="#000" textLength="38.5" lengthAdjust="spacingAndGlyphs">40</text>
<text x="571.5" y="769.0" font-size="37.0" font-weight="bold" text-anchor="middle" fill="#000" textLength="38.5" lengthAdjust="spacingAndGlyphs">50</text>
<text x="670.6" y="769.0" font-size="37.0" font-weight="bold" text-anchor="middle" fill="#000" textLength="38.5" lengthAdjust="spacingAndGlyphs">60</text>
<text x="769.8" y="769.0" font-size="37.0" font-weight="bold" text-anchor="middle" fill="#000" textLength="38.5" lengthAdjust="spacingAndGlyphs">70</text>
<text x="868.9" y="769.0" font-size="37.0" font-weight="bold" text-anchor="middle" fill="#000" textLength="38.5" lengthAdjust="spacingAndGlyphs">80</text>
<text x="968.0" y="769.0" font-size="37.0" font-weight="bold" text-anchor="middle" fill="#000" textLength="38.5" lengthAdjust="spacingAndGlyphs">90</text>
<text x="742.0" y="208.8" font-size="43.5" font-weight="bold" text-anchor="start" fill="#000" textLength="106.0" lengthAdjust="spacingAndGlyphs">MSNs</text>
<text x="694.5" y="352.3" font-size="42.0" font-weight="bold" text-anchor="start" fill="#000" textLength="201.0" lengthAdjust="spacingAndGlyphs">MSNs/HAP</text>
<text x="642.0" y="484.6" font-size="42.0" font-weight="bold" text-anchor="start" fill="#000" textLength="271.0" lengthAdjust="spacingAndGlyphs">MSNs/HAP-NH</text>
<text x="917.0" y="492.5" font-size="27.0" font-weight="bold" text-anchor="start" fill="#000" textLength="14.0" lengthAdjust="spacingAndGlyphs">2</text>
<text x="681.0" y="631.0" font-size="40.5" font-weight="bold" text-anchor="start" fill="#000" textLength="230.0" lengthAdjust="spacingAndGlyphs">PDF#09-0432</text>
<text x="429.0" y="819.0" font-size="40.0" font-weight="bold" text-anchor="start" fill="#000" textLength="290.0" lengthAdjust="spacingAndGlyphs">Three-Theta/deg</text>
<text transform="translate(59.2 583.0) rotate(-90)" x="0" y="0" font-size="46.5" font-weight="bold" text-anchor="start" fill="#000" textLength="287.0" lengthAdjust="spacingAndGlyphs">Intensity/Counts</text>
<path d="M1228.0,179.9 C1235.3,180.3 1261.2,181.1 1272.0,182.2 C1282.8,183.3 1287.3,184.6 1292.6,186.7 C1297.9,188.8 1299.8,191.8 1304.0,195.0 C1308.2,198.2 1312.3,203.0 1317.5,206.0 C1322.7,209.0 1329.7,211.3 1335.0,213.0 C1340.3,214.7 1344.8,216.2 1349.3,216.2 C1353.8,216.2 1357.1,214.3 1362.0,213.0 C1366.9,211.7 1371.5,210.2 1378.7,208.2 C1385.9,206.2 1395.5,203.3 1405.0,201.0 C1414.5,198.7 1425.4,196.4 1435.4,194.6 C1445.4,192.8 1455.6,191.1 1465.0,190.0 C1474.4,188.9 1479.9,188.4 1492.0,187.8 C1504.1,187.2 1522.8,186.6 1537.5,186.7 C1552.2,186.8 1571.9,187.7 1580.0,188.5 C1588.1,189.3 1584.0,191.1 1586.0,191.5 C1588.0,191.9 1589.7,191.1 1592.0,190.8 C1594.3,190.5 1595.3,189.7 1600.0,189.5 C1604.7,189.3 1605.3,189.1 1620.0,189.4 C1634.7,189.7 1673.0,190.6 1688.0,191.2 C1703.0,191.8 1703.2,192.1 1710.0,193.0 C1716.8,193.9 1723.2,195.2 1728.8,196.9 C1734.4,198.6 1739.4,202.9 1743.6,203.0 C1747.8,203.1 1747.9,198.0 1753.8,197.6 C1759.7,197.2 1772.3,199.1 1778.7,200.3 C1785.1,201.5 1788.5,204.7 1792.3,204.8 C1796.1,204.9 1797.6,200.7 1801.4,200.7 C1805.2,200.7 1811.2,202.2 1815.0,204.8 C1818.8,207.4 1821.0,210.5 1824.0,216.2 C1827.0,221.9 1829.4,232.0 1833.2,238.8 C1837.0,245.6 1843.4,251.7 1846.8,257.0 C1850.2,262.3 1851.7,261.5 1853.6,270.6 C1855.5,279.7 1856.5,303.5 1858.0,311.4 C1859.5,319.3 1861.3,317.8 1862.6,318.2 C1863.9,318.6 1863.9,311.1 1866.0,313.7 C1868.1,316.3 1872.7,338.2 1875.0,334.0 C1877.3,329.8 1878.1,305.7 1879.6,288.7 C1881.1,271.7 1882.7,242.6 1884.2,232.0 C1885.7,221.4 1887.5,226.4 1888.7,225.2 C1889.9,224.0 1889.1,228.2 1891.5,225.0 C1893.9,221.8 1899.0,210.3 1903.0,206.0 C1907.0,201.7 1911.9,198.7 1915.7,199.0 C1919.5,199.3 1923.0,207.9 1926.0,208.0 C1929.0,208.1 1930.7,201.0 1934.0,199.5 C1937.3,198.0 1942.1,198.1 1945.6,199.0 C1949.1,199.9 1952.3,202.9 1954.8,204.8 C1957.3,206.7 1959.1,208.1 1960.5,210.6 C1961.9,213.1 1961.8,217.7 1963.0,219.8 C1964.2,222.0 1966.4,219.5 1967.5,223.5 C1968.6,227.5 1969.0,243.6 1969.8,244.0 C1970.5,244.4 1971.2,226.2 1972.0,226.0 C1972.8,225.8 1973.2,237.3 1974.4,242.8 C1975.6,248.3 1977.8,262.4 1979.0,258.9 C1980.2,255.4 1980.5,230.0 1981.3,222.0 C1982.1,214.0 1982.1,213.6 1983.6,211.0 C1985.1,208.4 1988.6,205.6 1990.5,206.5 C1992.4,207.4 1993.8,210.6 1995.0,216.3 C1996.2,222.0 1996.1,236.5 1997.4,240.5 C1998.7,244.5 2001.5,243.2 2003.0,240.5 C2004.5,237.8 2005.4,231.2 2006.6,224.4 C2007.8,217.7 2009.0,198.7 2010.0,200.0 C2011.0,201.3 2011.7,227.7 2012.5,232.0 C2013.3,236.3 2014.2,227.0 2014.6,226.0" fill="none" stroke="#000" stroke-width="3.4" stroke-linejoin="round" stroke-linecap="round"/>
<rect x="2009.5" y="199" width="4" height="36" fill="#000"/>
<path d="M1228.0,351.0 C1235.3,351.4 1262.0,352.1 1272.0,353.4 C1282.0,354.7 1282.3,355.6 1288.0,359.0 C1293.7,362.4 1299.3,369.3 1306.0,373.8 C1312.7,378.3 1320.8,382.4 1328.0,386.0 C1335.2,389.6 1343.6,394.5 1349.3,395.3 C1355.0,396.1 1357.1,392.5 1362.0,391.0 C1366.9,389.5 1372.4,388.2 1378.7,386.2 C1385.0,384.2 1392.5,381.3 1400.0,379.0 C1407.5,376.7 1412.4,374.8 1424.0,372.6 C1435.6,370.4 1454.3,367.2 1469.4,365.8 C1484.5,364.4 1497.8,363.8 1514.8,364.0 C1531.8,364.2 1560.1,366.3 1571.5,367.0 C1582.9,367.7 1580.4,367.1 1583.0,368.0 C1585.6,368.9 1586.1,372.6 1587.3,372.6 C1588.5,372.6 1588.9,368.1 1590.0,368.0 C1591.1,367.9 1592.7,372.0 1594.0,372.0 C1595.3,372.0 1593.7,368.7 1598.0,368.0 C1602.3,367.3 1601.2,367.0 1620.0,367.6 C1638.8,368.2 1691.8,369.7 1710.7,371.5 C1729.6,373.3 1727.8,376.4 1733.4,378.3 C1739.0,380.2 1740.9,383.2 1744.3,382.8 C1747.7,382.4 1742.4,376.4 1753.8,376.0 C1765.2,375.6 1801.8,379.2 1812.7,380.6 C1823.7,382.0 1817.4,380.8 1819.5,384.5 C1821.6,388.2 1823.5,394.8 1825.2,402.7 C1826.9,410.6 1828.1,424.3 1829.8,432.2 C1831.5,440.1 1832.6,445.0 1835.4,450.3 C1838.2,455.6 1843.8,459.8 1846.8,463.9 C1849.8,468.0 1851.1,468.4 1853.6,475.2 C1856.0,482.0 1858.9,504.7 1861.5,504.7 C1864.1,504.7 1866.6,490.3 1869.4,475.2 C1872.2,460.1 1876.0,427.6 1878.5,414.0 C1881.0,400.4 1882.3,396.2 1884.2,393.6 C1886.1,391.0 1885.5,399.8 1889.8,398.1 C1894.1,396.4 1904.2,383.4 1910.3,383.4 C1916.3,383.4 1921.6,397.7 1926.1,398.1 C1930.6,398.5 1930.3,386.4 1937.5,385.7 C1944.7,384.9 1962.2,389.6 1969.2,393.6 C1976.2,397.6 1976.8,408.6 1979.4,409.5 C1982.0,410.4 1982.9,399.3 1985.0,399.3 C1987.1,399.3 1989.7,401.4 1992.0,409.5 C1994.3,417.6 1996.5,445.4 1998.7,448.0 C2001.0,450.6 2003.2,433.7 2005.5,425.4 C2007.8,417.1 2010.8,404.8 2012.3,398.1 C2013.8,391.4 2014.1,387.2 2014.5,385.0" fill="none" stroke="#ff2020" stroke-width="2.6" stroke-linejoin="round" stroke-linecap="round"/>
<path d="M1226.8,521.7 C1234.3,521.9 1261.8,521.4 1272.0,522.9 C1282.2,524.4 1283.8,527.4 1288.0,530.8 C1292.2,534.2 1294.0,537.4 1297.0,543.3 C1300.0,549.2 1302.8,560.0 1306.2,566.0 C1309.6,572.0 1313.0,574.2 1317.5,579.5 C1322.0,584.8 1328.1,593.4 1333.4,597.7 C1338.7,602.1 1343.6,605.6 1349.3,605.6 C1355.0,605.6 1361.7,601.1 1367.4,597.7 C1373.1,594.3 1378.8,588.2 1383.3,585.2 C1387.8,582.2 1387.8,584.2 1394.6,579.5 C1401.4,574.8 1413.4,564.1 1424.0,556.9 C1434.6,549.7 1446.7,541.4 1458.0,536.5 C1469.3,531.6 1478.8,529.5 1492.0,527.4 C1505.2,525.3 1523.5,524.5 1537.5,524.0 C1551.5,523.5 1568.4,524.2 1576.0,524.7 C1583.6,525.2 1581.3,525.6 1583.0,527.0 C1584.7,528.4 1585.0,532.8 1586.2,533.0 C1587.4,533.2 1589.0,528.5 1590.0,528.0 C1591.0,527.5 1590.9,528.8 1592.0,529.7 C1593.1,530.7 1595.1,534.0 1596.4,533.7 C1597.7,533.4 1596.1,529.0 1600.0,528.0 C1603.9,527.0 1601.5,527.3 1620.0,527.4 C1638.5,527.5 1692.6,527.0 1710.7,528.5 C1728.8,530.0 1723.1,532.1 1728.8,536.5 C1734.5,540.9 1740.2,555.4 1744.7,554.6 C1749.2,553.9 1748.5,536.0 1756.0,532.0 C1763.5,528.0 1780.5,529.7 1790.0,530.8 C1799.5,531.9 1807.4,533.6 1812.7,538.7 C1818.0,543.8 1819.5,550.0 1821.8,561.4 C1824.1,572.8 1824.4,594.3 1826.3,606.8 C1828.2,619.3 1829.8,628.3 1833.2,636.2 C1836.6,644.1 1843.0,649.5 1846.8,654.4 C1850.6,659.3 1853.2,662.1 1855.8,665.7 C1858.4,669.3 1860.3,676.3 1862.6,675.9 C1864.9,675.5 1867.1,674.9 1869.4,663.4 C1871.7,651.9 1873.7,623.0 1876.2,606.8 C1878.7,590.6 1881.9,570.2 1884.2,566.0 C1886.5,561.8 1885.1,585.4 1889.8,581.8 C1894.5,578.2 1906.5,546.3 1912.5,544.4 C1918.5,542.5 1921.9,569.5 1926.1,570.5 C1930.3,571.5 1933.7,553.1 1937.5,550.1 C1941.3,547.1 1945.8,551.2 1948.8,552.3 C1951.8,553.4 1951.4,555.0 1955.6,556.9 C1959.8,558.8 1968.4,560.7 1973.7,563.7 C1979.0,566.7 1983.9,567.8 1987.3,575.0 C1990.7,582.2 1991.8,597.0 1994.1,606.8 C1996.4,616.6 1999.1,631.0 2001.0,634.0 C2002.9,637.0 2003.6,634.5 2005.5,625.0 C2007.4,615.5 2010.8,588.1 2012.3,577.3 C2013.8,566.5 2014.1,562.9 2014.5,560.0" fill="none" stroke="#0022ee" stroke-width="3.8" stroke-linejoin="round" stroke-linecap="round"/>
<rect x="1226.0" y="135.5" width="789.3" height="582.3" fill="none" stroke="#000" stroke-width="5.6"/>
<line x1="1222.9" y1="718.2" x2="2018.3" y2="718.2" stroke="#000" stroke-width="7.4"/>
<line x1="1278.8" y1="715.0" x2="1278.8" y2="710.0" stroke="#000" stroke-width="3.0"/>
<line x1="1333.8" y1="715.0" x2="1333.8" y2="705.0" stroke="#000" stroke-width="3.0"/>
<line x1="1388.8" y1="715.0" x2="1388.8" y2="710.0" stroke="#000" stroke-width="3.0"/>
<line x1="1443.8" y1="715.0" x2="1443.8" y2="705.0" stroke="#000" stroke-width="3.0"/>
<line x1="1498.8" y1="715.0" x2="1498.8" y2="710.0" stroke="#000" stroke-width="3.0"/>
<line x1="1553.8" y1="715.0" x2="1553.8" y2="705.0" stroke="#000" stroke-width="3.0"/>
<line x1="1608.8" y1="715.0" x2="1608.8" y2="710.0" stroke="#000" stroke-width="3.0"/>
<line x1="1663.8" y1="715.0" x2="1663.8" y2="705.0" stroke="#000" stroke-width="3.0"/>
<line x1="1718.8" y1="715.0" x2="1718.8" y2="710.0" stroke="#000" stroke-width="3.0"/>
<line x1="1773.8" y1="715.0" x2="1773.8" y2="705.0" stroke="#000" stroke-width="3.0"/>
<line x1="1828.8" y1="715.0" x2="1828.8" y2="710.0" stroke="#000" stroke-width="3.0"/>
<line x1="1883.8" y1="715.0" x2="1883.8" y2="705.0" stroke="#000" stroke-width="3.0"/>
<line x1="1938.8" y1="715.0" x2="1938.8" y2="710.0" stroke="#000" stroke-width="3.0"/>
<line x1="1993.8" y1="715.0" x2="1993.8" y2="705.0" stroke="#000" stroke-width="3.0"/>
<text x="1223.8" y="757.0" font-size="36.5" font-weight="normal" text-anchor="middle" fill="#000" textLength="74.0" lengthAdjust="spacingAndGlyphs">4000</text>
<text x="1333.8" y="757.0" font-size="36.5" font-weight="normal" text-anchor="middle" fill="#000" textLength="74.0" lengthAdjust="spacingAndGlyphs">3500</text>
<text x="1443.8" y="757.0" font-size="36.5" font-weight="normal" text-anchor="middle" fill="#000" textLength="74.0" lengthAdjust="spacingAndGlyphs">3000</text>
<text x="1553.8" y="757.0" font-size="36.5" font-weight="normal" text-anchor="middle" fill="#000" textLength="74.0" lengthAdjust="spacingAndGlyphs">2500</text>
<text x="1663.8" y="757.0" font-size="36.5" font-weight="normal" text-anchor="middle" fill="#000" textLength="74.0" lengthAdjust="spacingAndGlyphs">2000</text>
<text x="1773.8" y="757.0" font-size="36.5" font-weight="normal" text-anchor="middle" fill="#000" textLength="74.0" lengthAdjust="spacingAndGlyphs">1500</text>
<text x="1883.8" y="757.0" font-size="36.5" font-weight="normal" text-anchor="middle" fill="#000" textLength="74.0" lengthAdjust="spacingAndGlyphs">1000</text>
<text x="1993.8" y="757.0" font-size="36.5" font-weight="normal" text-anchor="middle" fill="#000" textLength="56.0" lengthAdjust="spacingAndGlyphs">500</text>
<text x="1454.0" y="807.3" font-size="44.0" font-weight="bold" text-anchor="start" fill="#000" textLength="340.0" lengthAdjust="spacingAndGlyphs">Wavenumbers/cm</text>
<text x="1797.0" y="797.0" font-size="25.0" font-weight="bold" text-anchor="start" fill="#000" textLength="18.0" lengthAdjust="spacingAndGlyphs">-1</text>
<text transform="translate(1101.3 607.0) rotate(-90)" x="0" y="0" font-size="46.3" font-weight="bold" text-anchor="start" fill="#000" textLength="328.0" lengthAdjust="spacingAndGlyphs">Transmittance%</text>
<text x="1558.5" y="248.5" font-size="44.5" font-weight="bold" text-anchor="start" fill="#000" textLength="114.0" lengthAdjust="spacingAndGlyphs">MSNs</text>
<text x="1504.5" y="420.8" font-size="46.5" font-weight="bold" text-anchor="start" fill="#000" textLength="223.0" lengthAdjust="spacingAndGlyphs">MSNs/HAP</text>
<text x="1457.0" y="596.5" font-size="45.0" font-weight="bold" text-anchor="start" fill="#000" textLength="300.0" lengthAdjust="spacingAndGlyphs">MSNs/HAP-NH</text>
<text x="1759.5" y="604.7" font-size="29.0" font-weight="bold" text-anchor="start" fill="#000" textLength="16.0" lengthAdjust="spacingAndGlyphs">2</text>
<text x="1378.7" y="282.0" font-size="22.5" font-weight="normal" text-anchor="start" fill="#222">v</text>
<text x="1388.7" y="290.0" font-size="13.8" font-weight="normal" text-anchor="start" fill="#222" textLength="28.3" lengthAdjust="spacingAndGlyphs">O-H</text>
<text x="1419.0" y="283.0" font-size="25.0" font-weight="normal" text-anchor="start" fill="#222" textLength="93.5" lengthAdjust="spacingAndGlyphs" stroke="#222" stroke-width="0.45">=3212cm</text>
<text x="1514.5" y="272.0" font-size="13.8" font-weight="normal" text-anchor="start" fill="#222" textLength="9.0" lengthAdjust="spacingAndGlyphs">-1</text>
<text x="1654.0" y="276.0" font-size="22.5" font-weight="normal" text-anchor="start" fill="#222">v</text>
<text x="1664.0" y="284.0" font-size="13.8" font-weight="normal" text-anchor="start" fill="#222" textLength="51.0" lengthAdjust="spacingAndGlyphs">Si-O-Si</text>
<text x="1717.0" y="277.0" font-size="25.0" font-weight="normal" text-anchor="start" fill="#222" textLength="91.0" lengthAdjust="spacingAndGlyphs" stroke="#222" stroke-width="0.45">=1097cm</text>
<text x="1810.0" y="266.0" font-size="13.8" font-weight="normal" text-anchor="start" fill="#222" textLength="9.0" lengthAdjust="spacingAndGlyphs">-1</text>
<text x="1787.8" y="181.0" font-size="21.6" font-weight="normal" text-anchor="start" fill="#333">v</text>
<text x="1797.8" y="189.0" font-size="13.2" font-weight="normal" text-anchor="start" fill="#333" textLength="43.2" lengthAdjust="spacingAndGlyphs">P-O-P</text>
<text x="1843.0" y="182.0" font-size="24.0" font-weight="normal" text-anchor="start" fill="#333" textLength="80.0" lengthAdjust="spacingAndGlyphs" stroke="#333" stroke-width="0.45">=564cm</text>
<text x="1925.0" y="171.0" font-size="13.2" font-weight="normal" text-anchor="start" fill="#333" textLength="9.0" lengthAdjust="spacingAndGlyphs">-1</text>
<text x="1374.0" y="465.0" font-size="22.5" font-weight="normal" text-anchor="start" fill="#ee2222">v</text>
<text x="1384.0" y="473.0" font-size="13.8" font-weight="normal" text-anchor="start" fill="#ee2222" textLength="27.0" lengthAdjust="spacingAndGlyphs">O-H</text>
<text x="1413.0" y="466.0" font-size="25.0" font-weight="normal" text-anchor="start" fill="#ee2222" textLength="93.0" lengthAdjust="spacingAndGlyphs" stroke="#ee2222" stroke-width="0.45">=3432cm</text>
<text x="1508.0" y="455.0" font-size="13.8" font-weight="normal" text-anchor="start" fill="#ee2222" textLength="9.0" lengthAdjust="spacingAndGlyphs">-1</text>
<text x="1622.0" y="457.0" font-size="22.5" font-weight="normal" text-anchor="start" fill="#ee2222">v</text>
<text x="1632.0" y="465.0" font-size="13.8" font-weight="normal" text-anchor="start" fill="#ee2222" textLength="52.0" lengthAdjust="spacingAndGlyphs">Si-O-Si</text>
<text x="1686.0" y="458.0" font-size="25.0" font-weight="normal" text-anchor="start" fill="#ee2222" textLength="91.0" lengthAdjust="spacingAndGlyphs" stroke="#ee2222" stroke-width="0.45">=1099cm</text>
<text x="1779.0" y="447.0" font-size="13.8" font-weight="normal" text-anchor="start" fill="#ee2222" textLength="9.0" lengthAdjust="spacingAndGlyphs">-1</text>
<text x="1830.0" y="362.6" font-size="21.6" font-weight="normal" text-anchor="start" fill="#ee2222">v</text>
<text x="1840.0" y="370.6" font-size="13.2" font-weight="normal" text-anchor="start" fill="#ee2222" textLength="40.0" lengthAdjust="spacingAndGlyphs">P-O-P</text>
<text x="1882.0" y="363.6" font-size="24.0" font-weight="normal" text-anchor="start" fill="#ee2222" textLength="80.0" lengthAdjust="spacingAndGlyphs" stroke="#ee2222" stroke-width="0.45">=567cm</text>
<text x="1964.0" y="352.6" font-size="13.2" font-weight="normal" text-anchor="start" fill="#ee2222" textLength="9.0" lengthAdjust="spacingAndGlyphs">-1</text>
<text x="1394.6" y="653.0" font-size="22.5" font-weight="normal" text-anchor="start" fill="#2233ee">v</text>
<text x="1404.6" y="661.0" font-size="13.8" font-weight="normal" text-anchor="start" fill="#2233ee" textLength="63.4" lengthAdjust="spacingAndGlyphs">O-H&amp;N-H</text>
<text x="1470.0" y="654.0" font-size="25.0" font-weight="normal" text-anchor="start" fill="#2233ee" textLength="101.5" lengthAdjust="spacingAndGlyphs" stroke="#2233ee" stroke-width="0.45">=3441cm</text>
<text x="1573.5" y="643.0" font-size="13.8" font-weight="normal" text-anchor="start" fill="#2233ee" textLength="9.0" lengthAdjust="spacingAndGlyphs">-1</text>
<text x="1656.0" y="656.8" font-size="22.5" font-weight="normal" text-anchor="start" fill="#2233ee">v</text>
<text x="1666.0" y="664.8" font-size="13.8" font-weight="normal" text-anchor="start" fill="#2233ee" textLength="52.0" lengthAdjust="spacingAndGlyphs">Si-O-Si</text>
<text x="1720.0" y="657.8" font-size="25.0" font-weight="normal" text-anchor="start" fill="#2233ee" textLength="90.5" lengthAdjust="spacingAndGlyphs" stroke="#2233ee" stroke-width="0.45">=1094cm</text>
<text x="1812.5" y="646.8" font-size="13.8" font-weight="normal" text-anchor="start" fill="#2233ee" textLength="9.0" lengthAdjust="spacingAndGlyphs">-1</text>
<text x="1849.0" y="528.7" font-size="21.6" font-weight="normal" text-anchor="start" fill="#2233ee">v</text>
<text x="1859.0" y="536.7" font-size="13.2" font-weight="normal" text-anchor="start" fill="#2233ee" textLength="39.0" lengthAdjust="spacingAndGlyphs">P-O-P</text>
<text x="1900.0" y="529.7" font-size="24.0" font-weight="normal" text-anchor="start" fill="#2233ee" textLength="83.0" lengthAdjust="spacingAndGlyphs" stroke="#2233ee" stroke-width="0.45">=569cm</text>
<text x="1985.0" y="518.7" font-size="13.2" font-weight="normal" text-anchor="start" fill="#2233ee" textLength="9.0" lengthAdjust="spacingAndGlyphs">-1</text>
<line x1="1349.3" y1="218.4" x2="1372.9" y2="256.6" stroke="#333" stroke-width="1.4"/>
<polygon points="1378.7,266.0 1369.1,259.0 1376.7,254.3" fill="#333"/>
<line x1="1860.4" y1="318.2" x2="1814.8" y2="296.7" stroke="#333" stroke-width="1.6"/>
<polygon points="1804.8,292.0 1816.7,292.6 1812.8,300.8" fill="#333"/>
<line x1="1977.8" y1="257.0" x2="1925.9" y2="219.3" stroke="#333" stroke-width="1.6"/>
<polygon points="1917.0,212.8 1928.5,215.6 1923.3,222.9" fill="#333"/>
<line x1="1349.3" y1="398.0" x2="1365.5" y2="437.8" stroke="#ee3333" stroke-width="1.4"/>
<polygon points="1369.7,448.0 1361.4,439.5 1369.7,436.1" fill="#ee3333"/>
<line x1="1858.0" y1="500.2" x2="1816.0" y2="470.4" stroke="#ee3333" stroke-width="1.4"/>
<polygon points="1807.0,464.0 1818.6,466.7 1813.4,474.0" fill="#ee3333"/>
<line x1="1975.0" y1="402.0" x2="1973.5" y2="386.0" stroke="#ee3333" stroke-width="1.2"/>
<polygon points="1972.6,377.0 1976.9,385.6 1970.0,386.3" fill="#ee3333"/>
<line x1="1350.4" y1="607.9" x2="1383.2" y2="630.0" stroke="#3344ee" stroke-width="1.4"/>
<polygon points="1392.3,636.2 1380.7,633.8 1385.7,626.3" fill="#3344ee"/>
<line x1="1860.4" y1="673.7" x2="1824.3" y2="661.4" stroke="#3344ee" stroke-width="1.4"/>
<polygon points="1813.9,657.8 1825.8,657.1 1822.9,665.6" fill="#3344ee"/>
<line x1="1970.0" y1="550.0" x2="1968.6" y2="545.6" stroke="#3344ee" stroke-width="1.2"/>
<polygon points="1966.0,537.0 1972.0,544.6 1965.3,546.6" fill="#3344ee"/>
<polyline points="237.7,1417.6 245.3,1389.8 256.5,1316.7 267.6,1106.0 280.0,943.6 296.3,1209.9 313.0,1354.1 331.8,1404.8 354.9,1429.0 377.6,1438.7 412.3,1444.0 458.1,1445.4 521.9,1444.6 593.6,1444.6 656.2,1442.8 744.6,1440.7 858.6,1437.5 963.0,1433.1" fill="none" stroke="#ff0000" stroke-width="3.6" stroke-linejoin="round" stroke-linecap="round"/>
<rect x="232.2" y="1412.1" width="11" height="11" fill="#ff0000"/>
<rect x="239.8" y="1384.3" width="11" height="11" fill="#ff0000"/>
<rect x="251.0" y="1311.2" width="11" height="11" fill="#ff0000"/>
<rect x="262.1" y="1100.5" width="11" height="11" fill="#ff0000"/>
<rect x="274.5" y="938.1" width="11" height="11" fill="#ff0000"/>
<rect x="290.8" y="1204.4" width="11" height="11" fill="#ff0000"/>
<rect x="307.5" y="1348.6" width="11" height="11" fill="#ff0000"/>
<rect x="326.3" y="1399.3" width="11" height="11" fill="#ff0000"/>
<rect x="349.4" y="1423.5" width="11" height="11" fill="#ff0000"/>
<rect x="372.1" y="1433.2" width="11" height="11" fill="#ff0000"/>
<rect x="406.8" y="1438.5" width="11" height="11" fill="#ff0000"/>
<rect x="452.6" y="1439.9" width="11" height="11" fill="#ff0000"/>
<rect x="516.4" y="1439.1" width="11" height="11" fill="#ff0000"/>
<rect x="588.1" y="1439.1" width="11" height="11" fill="#ff0000"/>
<rect x="650.7" y="1437.3" width="11" height="11" fill="#ff0000"/>
<rect x="739.1" y="1435.2" width="11" height="11" fill="#ff0000"/>
<rect x="853.1" y="1432.0" width="11" height="11" fill="#ff0000"/>
<rect x="168.0" y="884.6" width="794.5" height="585.9" fill="none" stroke="#000" stroke-width="5.5"/>
<line x1="205.8" y1="1468.0" x2="205.8" y2="1464.5" stroke="#000" stroke-width="3.2"/>
<line x1="245.7" y1="1468.0" x2="245.7" y2="1458.5" stroke="#000" stroke-width="3.2"/>
<line x1="285.6" y1="1468.0" x2="285.6" y2="1464.5" stroke="#000" stroke-width="3.2"/>
<line x1="325.4" y1="1468.0" x2="325.4" y2="1458.5" stroke="#000" stroke-width="3.2"/>
<line x1="365.2" y1="1468.0" x2="365.2" y2="1464.5" stroke="#000" stroke-width="3.2"/>
<line x1="405.1" y1="1468.0" x2="405.1" y2="1458.5" stroke="#000" stroke-width="3.2"/>
<line x1="444.9" y1="1468.0" x2="444.9" y2="1464.5" stroke="#000" stroke-width="3.2"/>
<line x1="484.8" y1="1468.0" x2="484.8" y2="1458.5" stroke="#000" stroke-width="3.2"/>
<line x1="524.7" y1="1468.0" x2="524.7" y2="1464.5" stroke="#000" stroke-width="3.2"/>
<line x1="564.5" y1="1468.0" x2="564.5" y2="1458.5" stroke="#000" stroke-width="3.2"/>
<line x1="604.4" y1="1468.0" x2="604.4" y2="1464.5" stroke="#000" stroke-width="3.2"/>
<line x1="644.2" y1="1468.0" x2="644.2" y2="1458.5" stroke="#000" stroke-width="3.2"/>
<line x1="684.1" y1="1468.0" x2="684.1" y2="1464.5" stroke="#000" stroke-width="3.2"/>
<line x1="723.9" y1="1468.0" x2="723.9" y2="1458.5" stroke="#000" stroke-width="3.2"/>
<line x1="763.8" y1="1468.0" x2="763.8" y2="1464.5" stroke="#000" stroke-width="3.2"/>
<line x1="803.6" y1="1468.0" x2="803.6" y2="1458.5" stroke="#000" stroke-width="3.2"/>
<line x1="843.5" y1="1468.0" x2="843.5" y2="1464.5" stroke="#000" stroke-width="3.2"/>
<line x1="883.3" y1="1468.0" x2="883.3" y2="1458.5" stroke="#000" stroke-width="3.2"/>
<line x1="923.1" y1="1468.0" x2="923.1" y2="1464.5" stroke="#000" stroke-width="3.2"/>
<line x1="170.5" y1="1441.0" x2="174.0" y2="1441.0" stroke="#000" stroke-width="3.2"/>
<line x1="170.5" y1="1411.8" x2="180.5" y2="1411.8" stroke="#000" stroke-width="3.2"/>
<line x1="170.5" y1="1382.5" x2="174.0" y2="1382.5" stroke="#000" stroke-width="3.2"/>
<line x1="170.5" y1="1353.3" x2="180.5" y2="1353.3" stroke="#000" stroke-width="3.2"/>
<line x1="170.5" y1="1324.0" x2="174.0" y2="1324.0" stroke="#000" stroke-width="3.2"/>
<line x1="170.5" y1="1294.7" x2="180.5" y2="1294.7" stroke="#000" stroke-width="3.2"/>
<line x1="170.5" y1="1265.5" x2="174.0" y2="1265.5" stroke="#000" stroke-width="3.2"/>
<line x1="170.5" y1="1236.2" x2="180.5" y2="1236.2" stroke="#000" stroke-width="3.2"/>
<line x1="170.5" y1="1207.0" x2="174.0" y2="1207.0" stroke="#000" stroke-width="3.2"/>
<line x1="170.5" y1="1177.7" x2="180.5" y2="1177.7" stroke="#000" stroke-width="3.2"/>
<line x1="170.5" y1="1148.4" x2="174.0" y2="1148.4" stroke="#000" stroke-width="3.2"/>
<line x1="170.5" y1="1119.2" x2="180.5" y2="1119.2" stroke="#000" stroke-width="3.2"/>
<line x1="170.5" y1="1089.9" x2="174.0" y2="1089.9" stroke="#000" stroke-width="3.2"/>
<line x1="170.5" y1="1060.7" x2="180.5" y2="1060.7" stroke="#000" stroke-width="3.2"/>
<line x1="170.5" y1="1031.4" x2="174.0" y2="1031.4" stroke="#000" stroke-width="3.2"/>
<line x1="170.5" y1="1002.1" x2="180.5" y2="1002.1" stroke="#000" stroke-width="3.2"/>
<line x1="170.5" y1="972.9" x2="174.0" y2="972.9" stroke="#000" stroke-width="3.2"/>
<line x1="170.5" y1="943.6" x2="180.5" y2="943.6" stroke="#000" stroke-width="3.2"/>
<line x1="170.5" y1="914.4" x2="174.0" y2="914.4" stroke="#000" stroke-width="3.2"/>
<text x="167.0" y="1512.5" font-size="37.0" font-weight="bold" text-anchor="middle" fill="#000" textLength="15.5" lengthAdjust="spacingAndGlyphs">0</text>
<text x="246.7" y="1512.5" font-size="37.0" font-weight="bold" text-anchor="middle" fill="#000" textLength="15.5" lengthAdjust="spacingAndGlyphs">2</text>
<text x="326.4" y="1512.5" font-size="37.0" font-weight="bold" text-anchor="middle" fill="#000" textLength="15.5" lengthAdjust="spacingAndGlyphs">4</text>
<text x="406.1" y="1512.5" font-size="37.0" font-weight="bold" text-anchor="middle" fill="#000" textLength="15.5" lengthAdjust="spacingAndGlyphs">6</text>
<text x="485.8" y="1512.5" font-size="37.0" font-weight="bold" text-anchor="middle" fill="#000" textLength="15.5" lengthAdjust="spacingAndGlyphs">8</text>
<text x="565.5" y="1512.5" font-size="37.0" font-weight="bold" text-anchor="middle" fill="#000" textLength="32.0" lengthAdjust="spacingAndGlyphs">10</text>
<text x="645.2" y="1512.5" font-size="37.0" font-weight="bold" text-anchor="middle" fill="#000" textLength="32.0" lengthAdjust="spacingAndGlyphs">12</text>
<text x="724.9" y="1512.5" font-size="37.0" font-weight="bold" text-anchor="middle" fill="#000" textLength="32.0" lengthAdjust="spacingAndGlyphs">14</text>
<text x="804.6" y="1512.5" font-size="37.0" font-weight="bold" text-anchor="middle" fill="#000" textLength="32.0" lengthAdjust="spacingAndGlyphs">16</text>
<text x="884.3" y="1512.5" font-size="37.0" font-weight="bold" text-anchor="middle" fill="#000" textLength="32.0" lengthAdjust="spacingAndGlyphs">18</text>
<text x="964.0" y="1512.5" font-size="37.0" font-weight="bold" text-anchor="middle" fill="#000" textLength="32.0" lengthAdjust="spacingAndGlyphs">20</text>
<text x="152.5" y="1482.3" font-size="36.0" font-weight="bold" text-anchor="end" fill="#000" textLength="43.0" lengthAdjust="spacingAndGlyphs">0.0</text>
<text x="152.5" y="1423.8" font-size="36.0" font-weight="bold" text-anchor="end" fill="#000" textLength="43.0" lengthAdjust="spacingAndGlyphs">0.2</text>
<text x="152.5" y="1365.3" font-size="36.0" font-weight="bold" text-anchor="end" fill="#000" textLength="43.0" lengthAdjust="spacingAndGlyphs">0.4</text>
<text x="152.5" y="1306.7" font-size="36.0" font-weight="bold" text-anchor="end" fill="#000" textLength="43.0" lengthAdjust="spacingAndGlyphs">0.6</text>
<text x="152.5" y="1248.2" font-size="36.0" font-weight="bold" text-anchor="end" fill="#000" textLength="43.0" lengthAdjust="spacingAndGlyphs">0.8</text>
<text x="152.5" y="1189.7" font-size="36.0" font-weight="bold" text-anchor="end" fill="#000" textLength="43.0" lengthAdjust="spacingAndGlyphs">1.0</text>
<text x="152.5" y="1131.2" font-size="36.0" font-weight="bold" text-anchor="end" fill="#000" textLength="43.0" lengthAdjust="spacingAndGlyphs">1.2</text>
<text x="152.5" y="1072.7" font-size="36.0" font-weight="bold" text-anchor="end" fill="#000" textLength="43.0" lengthAdjust="spacingAndGlyphs">1.4</text>
<text x="152.5" y="1014.1" font-size="36.0" font-weight="bold" text-anchor="end" fill="#000" textLength="43.0" lengthAdjust="spacingAndGlyphs">1.6</text>
<text x="152.5" y="955.6" font-size="36.0" font-weight="bold" text-anchor="end" fill="#000" textLength="43.0" lengthAdjust="spacingAndGlyphs">1.8</text>
<text x="152.5" y="897.1" font-size="36.0" font-weight="bold" text-anchor="end" fill="#000" textLength="43.0" lengthAdjust="spacingAndGlyphs">2.0</text>
<text x="385.0" y="1580.5" font-size="43.5" font-weight="bold" text-anchor="start" fill="#000" textLength="364.0" lengthAdjust="spacingAndGlyphs">Pore Diameter/nm</text>
<text transform="translate(69.4 1353.0) rotate(-90)" x="0" y="0" font-size="48.0" font-weight="bold" text-anchor="start" fill="#000" textLength="302.0" lengthAdjust="spacingAndGlyphs">Pore Volume /cm</text>
<text transform="translate(56.0 1049.0) rotate(-90)" x="0" y="0" font-size="31.0" font-weight="bold" text-anchor="start" fill="#000" textLength="13.0" lengthAdjust="spacingAndGlyphs">3</text>
<text transform="translate(69.4 1034.0) rotate(-90)" x="0" y="0" font-size="48.0" font-weight="bold" text-anchor="start" fill="#000" textLength="29.0" lengthAdjust="spacingAndGlyphs">·g</text>
<text transform="translate(56.0 1004.0) rotate(-90)" x="0" y="0" font-size="31.0" font-weight="bold" text-anchor="start" fill="#000" textLength="22.0" lengthAdjust="spacingAndGlyphs">-1</text>
<polyline points="1232.9,1413.5 1264.1,1389.9 1309.0,1373.8 1329.8,1366.5 1350.6,1363.0 1381.0,1353.7 1424.2,1342.0 1462.7,1332.0 1504.3,1307.0 1542.7,1277.5 1588.3,1260.3 1626.8,1252.0 1667.6,1244.7 1702.8,1240.8 1743.6,1236.4 1782.8,1231.5 1824.5,1227.1 1862.9,1220.7 1890.1,1215.8 1902.9,1214.4 1922.1,1209.5 1940.5,1203.6 1962.2,1194.8 1983.8,1182.1 2002.2,1144.9 2002.2,1130.3 2015.0,1020.7 2019.0,908.3" fill="none" stroke="#ff0000" stroke-width="2.8" stroke-linejoin="round" stroke-linecap="round"/>
<polygon points="1232.9,1405.2 1224.8,1419.1 1241.0,1419.1" fill="#ff0000"/>
<polygon points="1264.1,1381.7 1256.0,1395.5 1272.2,1395.5" fill="#ff0000"/>
<polygon points="1309.0,1365.5 1300.8,1379.4 1317.1,1379.4" fill="#ff0000"/>
<polygon points="1329.8,1358.2 1321.6,1372.0 1337.9,1372.0" fill="#ff0000"/>
<polygon points="1350.6,1354.8 1342.5,1368.6 1358.7,1368.6" fill="#ff0000"/>
<polygon points="1381.0,1345.5 1372.9,1359.3 1389.1,1359.3" fill="#ff0000"/>
<polygon points="1424.2,1333.8 1416.1,1347.6 1432.3,1347.6" fill="#ff0000"/>
<polygon points="1462.7,1323.8 1454.5,1337.6 1470.8,1337.6" fill="#ff0000"/>
<polygon points="1504.3,1298.7 1496.2,1312.6 1512.4,1312.6" fill="#ff0000"/>
<polygon points="1542.7,1269.2 1534.6,1283.0 1550.8,1283.0" fill="#ff0000"/>
<polygon points="1588.3,1252.1 1580.2,1265.9 1596.4,1265.9" fill="#ff0000"/>
<polygon points="1626.8,1243.8 1618.6,1257.6 1634.9,1257.6" fill="#ff0000"/>
<polygon points="1667.6,1236.4 1659.5,1250.3 1675.7,1250.3" fill="#ff0000"/>
<polygon points="1702.8,1232.5 1694.7,1246.4 1710.9,1246.4" fill="#ff0000"/>
<polygon points="1743.6,1228.1 1735.5,1242.0 1751.7,1242.0" fill="#ff0000"/>
<polygon points="1782.8,1223.2 1774.7,1237.1 1791.0,1237.1" fill="#ff0000"/>
<polygon points="1824.5,1218.8 1816.4,1232.7 1832.6,1232.7" fill="#ff0000"/>
<polygon points="1862.9,1212.5 1854.8,1226.3 1871.0,1226.3" fill="#ff0000"/>
<polygon points="1890.1,1207.6 1882.0,1221.4 1898.2,1221.4" fill="#ff0000"/>
<polygon points="1902.9,1206.1 1894.8,1220.0 1911.0,1220.0" fill="#ff0000"/>
<polygon points="1922.1,1201.2 1914.0,1215.1 1930.3,1215.1" fill="#ff0000"/>
<polygon points="1940.5,1195.4 1932.4,1209.2 1948.7,1209.2" fill="#ff0000"/>
<polygon points="1962.2,1186.6 1954.0,1200.4 1970.3,1200.4" fill="#ff0000"/>
<polygon points="1983.8,1173.9 1975.7,1187.7 1991.9,1187.7" fill="#ff0000"/>
<polygon points="2002.2,1136.7 1994.1,1150.5 2010.3,1150.5" fill="#ff0000"/>
<polygon points="2002.2,1122.0 1994.1,1135.9 2010.3,1135.9" fill="#ff0000"/>
<polygon points="2015.0,1012.5 2006.9,1026.3 2023.1,1026.3" fill="#ff0000"/>
<polygon points="2019.0,900.0 2010.9,913.8 2027.1,913.8" fill="#ff0000"/>
<polyline points="2019.0,906.3 2013.4,908.3 2003.8,925.9 1985.4,1143.0 1965.4,1180.6 1940.5,1197.7 1922.1,1205.6 1898.9,1211.4 1890.1,1213.2 1862.9,1217.6 1824.5,1224.6 1784.5,1229.4 1743.6,1234.4 1704.4,1238.3 1666.0,1241.4 1626.8,1245.7 1588.3,1249.2 1542.7,1271.8 1504.3,1298.0 1462.7,1326.3 1425.0,1336.0 1382.6,1348.4 1329.8,1363.6 1309.0,1369.9" fill="none" stroke="#ff0000" stroke-width="2.8" stroke-linejoin="round" stroke-linecap="round"/>
<circle cx="2019.0" cy="906.3" r="6.6" fill="#ff0000"/>
<circle cx="2013.4" cy="908.3" r="6.6" fill="#ff0000"/>
<circle cx="2003.8" cy="925.9" r="6.6" fill="#ff0000"/>
<circle cx="1985.4" cy="1143.0" r="6.6" fill="#ff0000"/>
<circle cx="1965.4" cy="1180.6" r="6.6" fill="#ff0000"/>
<circle cx="1940.5" cy="1197.7" r="6.6" fill="#ff0000"/>
<circle cx="1922.1" cy="1205.6" r="6.6" fill="#ff0000"/>
<circle cx="1898.9" cy="1211.4" r="6.6" fill="#ff0000"/>
<circle cx="1890.1" cy="1213.2" r="6.6" fill="#ff0000"/>
<circle cx="1862.9" cy="1217.6" r="6.6" fill="#ff0000"/>
<circle cx="1824.5" cy="1224.6" r="6.6" fill="#ff0000"/>
<circle cx="1784.5" cy="1229.4" r="6.6" fill="#ff0000"/>
<circle cx="1743.6" cy="1234.4" r="6.6" fill="#ff0000"/>
<circle cx="1704.4" cy="1238.3" r="6.6" fill="#ff0000"/>
<circle cx="1666.0" cy="1241.4" r="6.6" fill="#ff0000"/>
<circle cx="1626.8" cy="1245.7" r="6.6" fill="#ff0000"/>
<circle cx="1588.3" cy="1249.2" r="6.6" fill="#ff0000"/>
<circle cx="1542.7" cy="1271.8" r="6.6" fill="#ff0000"/>
<circle cx="1504.3" cy="1298.0" r="6.6" fill="#ff0000"/>
<circle cx="1462.7" cy="1326.3" r="6.6" fill="#ff0000"/>
<circle cx="1425.0" cy="1336.0" r="6.6" fill="#ff0000"/>
<circle cx="1382.6" cy="1348.4" r="6.6" fill="#ff0000"/>
<circle cx="1329.8" cy="1363.6" r="6.6" fill="#ff0000"/>
<circle cx="1309.0" cy="1369.9" r="6.6" fill="#ff0000"/>
<polyline points="1232.9,1462.0 1265.7,1455.5 1302.5,1452.0 1338.6,1449.3 1382.6,1447.6 1422.6,1445.0 1462.7,1441.3 1502.7,1437.8 1542.7,1435.4 1582.7,1433.1 1622.8,1430.9 1662.8,1428.6 1702.8,1426.4 1742.8,1424.1 1782.8,1421.5 1822.9,1418.5 1862.9,1413.9 1886.9,1410.5 1910.9,1407.5 1934.9,1404.6 1959.0,1400.7 1983.0,1395.3 2003.0,1377.7 2007.0,1369.6 2011.0,1363.8 2017.4,1349.3 2020.6,1321.0" fill="none" stroke="#0000ff" stroke-width="3.2" stroke-linejoin="round" stroke-linecap="round"/>
<polygon points="1232.9,1453.8 1224.8,1467.6 1241.0,1467.6" fill="#0000ff"/>
<polygon points="1265.7,1447.3 1257.6,1461.1 1273.8,1461.1" fill="#0000ff"/>
<polygon points="1302.5,1443.8 1294.4,1457.6 1310.7,1457.6" fill="#0000ff"/>
<polygon points="1338.6,1441.0 1330.5,1454.9 1346.7,1454.9" fill="#0000ff"/>
<polygon points="1382.6,1439.4 1374.5,1453.2 1390.7,1453.2" fill="#0000ff"/>
<polygon points="1422.6,1436.7 1414.5,1450.6 1430.7,1450.6" fill="#0000ff"/>
<polygon points="1462.7,1433.0 1454.5,1446.9 1470.8,1446.9" fill="#0000ff"/>
<polygon points="1502.7,1429.6 1494.6,1443.4 1510.8,1443.4" fill="#0000ff"/>
<polygon points="1542.7,1427.2 1534.6,1441.0 1550.8,1441.0" fill="#0000ff"/>
<polygon points="1582.7,1424.8 1574.6,1438.6 1590.8,1438.6" fill="#0000ff"/>
<polygon points="1622.8,1422.7 1614.6,1436.5 1630.9,1436.5" fill="#0000ff"/>
<polygon points="1662.8,1420.3 1654.7,1434.1 1670.9,1434.1" fill="#0000ff"/>
<polygon points="1702.8,1418.2 1694.7,1432.0 1710.9,1432.0" fill="#0000ff"/>
<polygon points="1742.8,1415.8 1734.7,1429.6 1750.9,1429.6" fill="#0000ff"/>
<polygon points="1782.8,1413.3 1774.7,1427.1 1791.0,1427.1" fill="#0000ff"/>
<polygon points="1822.9,1410.2 1814.8,1424.1 1831.0,1424.1" fill="#0000ff"/>
<polygon points="1862.9,1405.6 1854.8,1419.5 1871.0,1419.5" fill="#0000ff"/>
<polygon points="1886.9,1402.2 1878.8,1416.0 1895.0,1416.0" fill="#0000ff"/>
<polygon points="1910.9,1399.3 1902.8,1413.1 1919.0,1413.1" fill="#0000ff"/>
<polygon points="1934.9,1396.3 1926.8,1410.2 1943.1,1410.2" fill="#0000ff"/>
<polygon points="1959.0,1392.4 1950.8,1406.3 1967.1,1406.3" fill="#0000ff"/>
<polygon points="1983.0,1387.1 1974.9,1400.9 1991.1,1400.9" fill="#0000ff"/>
<polygon points="2003.0,1369.5 1994.9,1383.3 2011.1,1383.3" fill="#0000ff"/>
<polygon points="2007.0,1361.3 1998.9,1375.2 2015.1,1375.2" fill="#0000ff"/>
<polygon points="2011.0,1355.6 2002.9,1369.4 2019.1,1369.4" fill="#0000ff"/>
<polygon points="2017.4,1341.1 2009.3,1354.9 2025.5,1354.9" fill="#0000ff"/>
<polygon points="2020.6,1312.7 2012.5,1326.6 2028.7,1326.6" fill="#0000ff"/>
<polyline points="2020.6,1306.6 2019.0,1321.0 2003.0,1338.0 1983.0,1388.2 1959.0,1398.7 1934.9,1403.1 1910.9,1406.1 1886.9,1408.2 1862.9,1411.0 1822.9,1418.2 1782.8,1421.0 1742.8,1423.8 1702.8,1426.0 1662.8,1428.3 1622.8,1430.6 1582.7,1432.8 1542.7,1435.1 1502.7,1437.4 1462.7,1440.8 1422.6,1444.2 1382.6,1447.3 1338.6,1449.0 1302.5,1451.6 1232.9,1461.8" fill="none" stroke="#0000ff" stroke-width="3.2" stroke-linejoin="round" stroke-linecap="round"/>
<circle cx="2020.6" cy="1306.6" r="6.6" fill="#0000ff"/>
<circle cx="2019.0" cy="1321.0" r="6.6" fill="#0000ff"/>
<circle cx="2003.0" cy="1338.0" r="6.6" fill="#0000ff"/>
<circle cx="1983.0" cy="1388.2" r="6.6" fill="#0000ff"/>
<circle cx="1959.0" cy="1398.7" r="6.6" fill="#0000ff"/>
<circle cx="1934.9" cy="1403.1" r="6.6" fill="#0000ff"/>
<circle cx="1910.9" cy="1406.1" r="6.6" fill="#0000ff"/>
<circle cx="1886.9" cy="1408.2" r="6.6" fill="#0000ff"/>
<circle cx="1862.9" cy="1411.0" r="6.6" fill="#0000ff"/>
<circle cx="1822.9" cy="1418.2" r="6.6" fill="#0000ff"/>
<circle cx="1782.8" cy="1421.0" r="6.6" fill="#0000ff"/>
<circle cx="1742.8" cy="1423.8" r="6.6" fill="#0000ff"/>
<circle cx="1702.8" cy="1426.0" r="6.6" fill="#0000ff"/>
<circle cx="1662.8" cy="1428.3" r="6.6" fill="#0000ff"/>
<circle cx="1622.8" cy="1430.6" r="6.6" fill="#0000ff"/>
<circle cx="1582.7" cy="1432.8" r="6.6" fill="#0000ff"/>
<circle cx="1542.7" cy="1435.1" r="6.6" fill="#0000ff"/>
<circle cx="1502.7" cy="1437.4" r="6.6" fill="#0000ff"/>
<circle cx="1462.7" cy="1440.8" r="6.6" fill="#0000ff"/>
<circle cx="1422.6" cy="1444.2" r="6.6" fill="#0000ff"/>
<circle cx="1382.6" cy="1447.3" r="6.6" fill="#0000ff"/>
<circle cx="1338.6" cy="1449.0" r="6.6" fill="#0000ff"/>
<circle cx="1302.5" cy="1451.6" r="6.6" fill="#0000ff"/>
<circle cx="1232.9" cy="1461.8" r="6.6" fill="#0000ff"/>
<rect x="1225.0" y="888.2" width="798.0" height="588.6" fill="none" stroke="#000" stroke-width="4.6"/>
<line x1="1302.5" y1="1474.0" x2="1302.5" y2="1470.5" stroke="#000" stroke-width="3.2"/>
<line x1="1382.6" y1="1474.0" x2="1382.6" y2="1464.0" stroke="#000" stroke-width="3.2"/>
<line x1="1462.7" y1="1474.0" x2="1462.7" y2="1470.5" stroke="#000" stroke-width="3.2"/>
<line x1="1542.7" y1="1474.0" x2="1542.7" y2="1464.0" stroke="#000" stroke-width="3.2"/>
<line x1="1622.8" y1="1474.0" x2="1622.8" y2="1470.5" stroke="#000" stroke-width="3.2"/>
<line x1="1702.8" y1="1474.0" x2="1702.8" y2="1464.0" stroke="#000" stroke-width="3.2"/>
<line x1="1782.8" y1="1474.0" x2="1782.8" y2="1470.5" stroke="#000" stroke-width="3.2"/>
<line x1="1862.9" y1="1474.0" x2="1862.9" y2="1464.0" stroke="#000" stroke-width="3.2"/>
<line x1="1943.0" y1="1474.0" x2="1943.0" y2="1470.5" stroke="#000" stroke-width="3.2"/>
<line x1="1227.5" y1="1426.6" x2="1231.0" y2="1426.6" stroke="#000" stroke-width="3.2"/>
<line x1="1227.5" y1="1377.7" x2="1237.5" y2="1377.7" stroke="#000" stroke-width="3.2"/>
<line x1="1227.5" y1="1328.8" x2="1231.0" y2="1328.8" stroke="#000" stroke-width="3.2"/>
<line x1="1227.5" y1="1279.9" x2="1237.5" y2="1279.9" stroke="#000" stroke-width="3.2"/>
<line x1="1227.5" y1="1231.0" x2="1231.0" y2="1231.0" stroke="#000" stroke-width="3.2"/>
<line x1="1227.5" y1="1182.1" x2="1237.5" y2="1182.1" stroke="#000" stroke-width="3.2"/>
<line x1="1227.5" y1="1133.2" x2="1231.0" y2="1133.2" stroke="#000" stroke-width="3.2"/>
<line x1="1227.5" y1="1084.3" x2="1237.5" y2="1084.3" stroke="#000" stroke-width="3.2"/>
<line x1="1227.5" y1="1035.4" x2="1231.0" y2="1035.4" stroke="#000" stroke-width="3.2"/>
<line x1="1227.5" y1="986.5" x2="1237.5" y2="986.5" stroke="#000" stroke-width="3.2"/>
<line x1="1227.5" y1="937.6" x2="1231.0" y2="937.6" stroke="#000" stroke-width="3.2"/>
<text x="1223.5" y="1518.5" font-size="36.0" font-weight="bold" text-anchor="middle" fill="#000" textLength="50.0" lengthAdjust="spacingAndGlyphs">0.0</text>
<text x="1383.6" y="1518.5" font-size="36.0" font-weight="bold" text-anchor="middle" fill="#000" textLength="50.0" lengthAdjust="spacingAndGlyphs">0.2</text>
<text x="1543.7" y="1518.5" font-size="36.0" font-weight="bold" text-anchor="middle" fill="#000" textLength="50.0" lengthAdjust="spacingAndGlyphs">0.4</text>
<text x="1703.8" y="1518.5" font-size="36.0" font-weight="bold" text-anchor="middle" fill="#000" textLength="50.0" lengthAdjust="spacingAndGlyphs">0.6</text>
<text x="1863.9" y="1518.5" font-size="36.0" font-weight="bold" text-anchor="middle" fill="#000" textLength="50.0" lengthAdjust="spacingAndGlyphs">0.8</text>
<text x="2024.0" y="1518.5" font-size="36.0" font-weight="bold" text-anchor="middle" fill="#000" textLength="50.0" lengthAdjust="spacingAndGlyphs">1.0</text>
<text x="1209.0" y="1487.5" font-size="36.0" font-weight="bold" text-anchor="end" fill="#000" textLength="19.0" lengthAdjust="spacingAndGlyphs">0</text>
<text x="1209.0" y="1389.7" font-size="36.0" font-weight="bold" text-anchor="end" fill="#000" textLength="61.5" lengthAdjust="spacingAndGlyphs">100</text>
<text x="1209.0" y="1291.9" font-size="36.0" font-weight="bold" text-anchor="end" fill="#000" textLength="61.5" lengthAdjust="spacingAndGlyphs">200</text>
<text x="1209.0" y="1194.1" font-size="36.0" font-weight="bold" text-anchor="end" fill="#000" textLength="61.5" lengthAdjust="spacingAndGlyphs">300</text>
<text x="1209.0" y="1096.3" font-size="36.0" font-weight="bold" text-anchor="end" fill="#000" textLength="61.5" lengthAdjust="spacingAndGlyphs">400</text>
<text x="1209.0" y="998.5" font-size="36.0" font-weight="bold" text-anchor="end" fill="#000" textLength="61.5" lengthAdjust="spacingAndGlyphs">500</text>
<text x="1209.0" y="900.7" font-size="36.0" font-weight="bold" text-anchor="end" fill="#000" textLength="61.5" lengthAdjust="spacingAndGlyphs">600</text>
<text x="1628.5" y="1187.0" font-size="42.0" font-weight="bold" text-anchor="start" fill="#000" textLength="233.5" lengthAdjust="spacingAndGlyphs">MSNs/HAP</text>
<text x="1578.0" y="1356.5" font-size="44.0" font-weight="bold" text-anchor="start" fill="#000" textLength="314.0" lengthAdjust="spacingAndGlyphs">MSNs/HAP-NH</text>
<text x="1896.5" y="1365.0" font-size="27.0" font-weight="bold" text-anchor="start" fill="#000" textLength="17.0" lengthAdjust="spacingAndGlyphs">2</text>
<text x="1397.5" y="1579.0" font-size="43.0" font-weight="bold" text-anchor="start" fill="#000" textLength="420.0" lengthAdjust="spacingAndGlyphs">Relative Pressure/p·p</text>
<text x="1820.0" y="1590.0" font-size="27.0" font-weight="bold" text-anchor="start" fill="#000" textLength="14.0" lengthAdjust="spacingAndGlyphs">o</text>
<text x="1837.0" y="1565.0" font-size="27.0" font-weight="bold" text-anchor="start" fill="#000" textLength="20.0" lengthAdjust="spacingAndGlyphs">-1</text>
<text transform="translate(1113.3 1415.0) rotate(-90)" x="0" y="0" font-size="46.0" font-weight="bold" text-anchor="start" fill="#000" textLength="409.0" lengthAdjust="spacingAndGlyphs">Quantity Absorbed/cm</text>
<text transform="translate(1099.5 1007.0) rotate(-90)" x="0" y="0" font-size="31.0" font-weight="bold" text-anchor="start" fill="#000" textLength="15.0" lengthAdjust="spacingAndGlyphs">3</text>
<text transform="translate(1113.3 991.0) rotate(-90)" x="0" y="0" font-size="46.0" font-weight="bold" text-anchor="start" fill="#000" textLength="30.0" lengthAdjust="spacingAndGlyphs">·g</text>
<text transform="translate(1099.5 960.0) rotate(-90)" x="0" y="0" font-size="31.0" font-weight="bold" text-anchor="start" fill="#000" textLength="19.0" lengthAdjust="spacingAndGlyphs">-1</text>
<polyline points="166.0,1713.9 168.0,1734.8 170.0,1756.4 172.0,1779.6 174.0,1803.2 176.0,1825.1 178.0,1846.0 180.0,1855.8 182.0,1859.0 184.0,1861.1 186.0,1861.9 188.0,1863.0 190.0,1863.0 192.0,1864.3 194.0,1865.4 196.0,1866.2 198.0,1866.4 200.0,1866.6 202.0,1867.7 204.0,1868.9 206.0,1869.2 208.0,1870.5 210.0,1870.5 212.0,1871.3 214.0,1871.8 216.0,1873.2 218.0,1874.2 220.0,1875.0 222.0,1874.9 224.0,1875.5 226.0,1876.7 228.0,1877.6 230.0,1878.0 232.0,1879.3 234.0,1879.4 236.0,1880.2 238.0,1880.9 240.0,1882.2 242.0,1882.7 244.0,1883.0 246.0,1884.3 248.0,1884.7 250.0,1885.2 252.0,1886.4 254.0,1887.0 256.0,1887.6 258.0,1888.9 260.0,1889.6 262.0,1890.0 264.0,1890.7 266.0,1891.2 268.0,1891.4 270.0,1892.0 272.0,1891.8 274.0,1892.6 276.0,1892.5 278.0,1892.9 280.0,1893.2 282.0,1894.0 284.0,1894.0 286.0,1894.9 288.0,1894.8 290.0,1895.5 292.0,1895.3 294.0,1896.2 296.0,1896.1 298.0,1896.5 300.0,1896.9 302.0,1897.7 304.0,1897.5 306.0,1898.0 308.0,1896.9 310.0,1894.8 312.0,1892.7 314.0,1891.7 316.0,1891.6 318.0,1890.9 320.0,1890.9 322.0,1890.3 324.0,1890.5 326.0,1890.0 328.0,1889.6 330.0,1889.7 332.0,1889.4 334.0,1888.9 336.0,1888.5 338.0,1887.1 340.0,1883.7 342.0,1873.7 344.0,1842.9 346.0,1813.0 348.0,1803.2 350.0,1805.2 352.0,1807.4 354.0,1808.7 356.0,1810.8 358.0,1813.5 360.0,1815.4 362.0,1817.0 364.0,1819.7 366.0,1822.0 368.0,1823.9 370.0,1826.6 372.0,1828.8 374.0,1830.7 376.0,1832.7 378.0,1833.6 380.0,1835.3 382.0,1836.3 384.0,1837.9 386.0,1839.3 388.0,1841.4 390.0,1842.9 392.0,1844.3 394.0,1845.6 396.0,1845.8 398.0,1846.5 400.0,1847.4 402.0,1848.7 404.0,1849.3 406.0,1850.5 408.0,1851.1 410.0,1851.5 412.0,1852.4 414.0,1853.1 416.0,1853.9 418.0,1854.5 420.0,1855.6 422.0,1856.1 424.0,1856.9 426.0,1856.6 428.0,1858.0 430.0,1858.1 432.0,1858.2 434.0,1858.6 436.0,1859.6 438.0,1860.0 440.0,1860.2 442.0,1859.9 444.0,1860.4 446.0,1860.7 448.0,1861.4 450.0,1861.4 452.0,1862.4 454.0,1863.0 456.0,1863.0 458.0,1863.4 460.0,1863.7 462.0,1864.0 464.0,1864.9 466.0,1865.0 468.0,1865.4 470.0,1865.5 472.0,1865.8 474.0,1866.6 476.0,1866.7 478.0,1866.2 480.0,1866.6 482.0,1867.1 484.0,1866.6 486.0,1867.0 488.0,1867.5 490.0,1867.8 492.0,1868.0 494.0,1867.4 496.0,1867.7 498.0,1868.3 500.0,1868.3 502.0,1868.5 504.0,1868.1 506.0,1868.2 508.0,1868.3 510.0,1868.8 512.0,1868.7 514.0,1869.2 516.0,1869.3 518.0,1869.7 520.0,1870.1 522.0,1870.1 524.0,1870.2 526.0,1870.4 528.0,1870.2 530.0,1870.9 532.0,1870.4 534.0,1870.5 536.0,1870.6 538.0,1870.7 540.0,1871.3 542.0,1871.2 544.0,1871.5 546.0,1871.3 548.0,1870.8 550.0,1871.1 552.0,1871.2 554.0,1871.7 556.0,1872.0 558.0,1872.0 560.0,1871.9 562.0,1871.8 564.0,1871.6 566.0,1871.7 568.0,1871.9 570.0,1871.6 572.0,1871.9 574.0,1872.1 576.0,1872.0 578.0,1872.2 580.0,1872.2 582.0,1872.4 584.0,1872.7 586.0,1872.4 588.0,1872.6 590.0,1872.3 592.0,1872.4 594.0,1873.0 596.0,1873.2 598.0,1873.1 600.0,1872.8 602.0,1873.2 604.0,1873.1 606.0,1872.9 608.0,1873.3 610.0,1873.1 612.0,1873.4 614.0,1874.0 616.0,1873.8 618.0,1873.2 620.0,1874.1 622.0,1874.0 624.0,1874.4 626.0,1874.3 628.0,1873.7 630.0,1874.3 632.0,1874.3 634.0,1874.6 636.0,1874.5 638.0,1874.8 640.0,1875.0 642.0,1874.8 644.0,1874.7 646.0,1874.8 648.0,1874.7 650.0,1874.6 652.0,1875.0 654.0,1875.0 656.0,1874.9 658.0,1874.8 660.0,1875.2 662.0,1874.5 664.0,1874.6 666.0,1875.2 668.0,1874.6 670.0,1874.5 672.0,1874.6 674.0,1874.5 676.0,1875.0 678.0,1874.4 680.0,1874.7 682.0,1875.0 684.0,1875.3 686.0,1874.6 688.0,1874.3 690.0,1874.4 692.0,1874.5 694.0,1875.2 696.0,1874.6 698.0,1874.4 700.0,1874.5 702.0,1874.9 704.0,1874.6 706.0,1874.4 708.0,1874.8 710.0,1874.5 712.0,1874.3 714.0,1874.3 716.0,1874.9 718.0,1874.9 720.0,1875.1 722.0,1874.9 724.0,1874.6 726.0,1874.3 728.0,1874.9 730.0,1874.5 732.0,1874.8 734.0,1874.2 736.0,1874.9 738.0,1874.8 740.0,1874.8 742.0,1874.0 744.0,1874.9 746.0,1874.4 748.0,1874.2 750.0,1874.2 752.0,1874.2 754.0,1874.1 756.0,1875.0 758.0,1874.6 760.0,1874.1 762.0,1874.7 764.0,1874.6 766.0,1874.8 768.0,1874.4 770.0,1874.6 772.0,1874.2 774.0,1874.5 776.0,1874.4 778.0,1874.7 780.0,1874.8 782.0,1874.4 784.0,1874.1 786.0,1874.9 788.0,1874.1 790.0,1874.9 792.0,1874.5 794.0,1874.5 796.0,1874.3 798.0,1874.9 800.0,1874.7 802.0,1874.8 804.0,1874.8 806.0,1874.1 808.0,1874.8 810.0,1874.4 812.0,1874.1 814.0,1874.4 816.0,1874.8 818.0,1874.7 820.0,1874.4 822.0,1874.2 824.0,1874.8 826.0,1874.9 828.0,1874.3 830.0,1874.2 832.0,1874.4 834.0,1874.8 836.0,1875.0 838.0,1874.8 840.0,1874.7 842.0,1874.1 844.0,1874.1 846.0,1874.2 848.0,1874.7 850.0,1874.3 852.0,1874.6 854.0,1874.8 856.0,1874.0 858.0,1874.7 860.0,1874.2 862.0,1874.4 864.0,1874.6 866.0,1874.1 868.0,1874.7 870.0,1874.3 872.0,1874.0 874.0,1874.8 876.0,1874.3 878.0,1875.0 880.0,1874.5 882.0,1874.5 884.0,1874.0 886.0,1874.7 888.0,1874.6 890.0,1874.3 892.0,1874.2 894.0,1874.7 896.0,1874.0 898.0,1874.2 900.0,1874.3 902.0,1874.2 904.0,1874.8 906.0,1874.3 908.0,1874.6 910.0,1874.8 912.0,1874.5 914.0,1874.3 916.0,1874.0 918.0,1874.0 920.0,1874.2 922.0,1874.3 924.0,1874.6 926.0,1874.5 928.0,1874.0 930.0,1874.9 932.0,1874.1 934.0,1874.2 936.0,1874.7 938.0,1874.4 940.0,1874.8 942.0,1874.3 944.0,1874.3 946.0,1874.6 948.0,1874.6 950.0,1874.5 952.0,1874.2 954.0,1874.7 956.0,1874.8 958.0,1874.7 960.0,1874.5" fill="none" stroke="#ff1111" stroke-width="3.6" stroke-linejoin="round" stroke-linecap="round"/>
<polyline points="166.0,1919.0 168.0,1939.7 170.0,1960.8 172.0,1981.3 174.0,1998.7 176.0,2014.5 178.0,2023.8 180.0,2032.2 182.0,2035.2 184.0,2036.4 186.0,2037.0 188.0,2038.0 190.0,2038.7 192.0,2040.1 194.0,2039.9 196.0,2040.2 198.0,2040.9 200.0,2041.2 202.0,2042.2 204.0,2041.8 206.0,2043.0 208.0,2042.6 210.0,2044.2 212.0,2044.3 214.0,2045.0 216.0,2045.3 218.0,2046.1 220.0,2046.0 222.0,2046.8 224.0,2047.0 226.0,2047.9 228.0,2047.7 230.0,2047.9 232.0,2048.3 234.0,2048.7 236.0,2049.2 238.0,2050.0 240.0,2050.6 242.0,2051.1 244.0,2051.7 246.0,2051.6 248.0,2052.0 250.0,2052.5 252.0,2053.6 254.0,2054.2 256.0,2053.9 258.0,2055.2 260.0,2055.2 262.0,2055.8 264.0,2056.1 266.0,2056.9 268.0,2057.5 270.0,2057.1 272.0,2058.1 274.0,2058.4 276.0,2058.8 278.0,2059.1 280.0,2059.7 282.0,2060.2 284.0,2059.9 286.0,2060.4 288.0,2060.1 290.0,2061.0 292.0,2061.1 294.0,2061.0 296.0,2061.3 298.0,2062.1 300.0,2062.6 302.0,2062.3 304.0,2062.1 306.0,2062.9 308.0,2061.9 310.0,2061.3 312.0,2059.7 314.0,2058.7 316.0,2056.9 318.0,2056.4 320.0,2055.8 322.0,2055.8 324.0,2054.4 326.0,2054.6 328.0,2054.2 330.0,2054.1 332.0,2054.1 334.0,2053.3 336.0,2050.4 338.0,2037.9 340.0,2021.5 342.0,2002.8 344.0,1989.5 346.0,1991.2 348.0,1992.3 350.0,1993.2 352.0,1994.1 354.0,1995.7 356.0,1997.7 358.0,1998.6 360.0,1999.7 362.0,2001.7 364.0,2002.8 366.0,2003.9 368.0,2005.0 370.0,2007.2 372.0,2008.3 374.0,2010.0 376.0,2010.7 378.0,2012.5 380.0,2012.9 382.0,2014.8 384.0,2016.4 386.0,2017.7 388.0,2018.8 390.0,2018.7 392.0,2019.5 394.0,2021.1 396.0,2021.2 398.0,2022.0 400.0,2023.0 402.0,2023.1 404.0,2024.9 406.0,2025.6 408.0,2025.3 410.0,2026.1 412.0,2027.8 414.0,2027.2 416.0,2028.0 418.0,2027.6 420.0,2028.1 422.0,2028.8 424.0,2028.6 426.0,2029.2 428.0,2029.4 430.0,2029.9 432.0,2029.9 434.0,2030.0 436.0,2030.1 438.0,2030.0 440.0,2030.9 442.0,2030.7 444.0,2031.0 446.0,2031.6 448.0,2031.9 450.0,2031.7 452.0,2031.6 454.0,2031.7 456.0,2032.0 458.0,2032.9 460.0,2032.5 462.0,2033.1 464.0,2033.7 466.0,2033.5 468.0,2033.8 470.0,2034.2 472.0,2034.4 474.0,2034.2 476.0,2033.6 478.0,2034.7 480.0,2034.8 482.0,2034.4 484.0,2035.0 486.0,2034.8 488.0,2033.9 490.0,2035.0 492.0,2034.5 494.0,2034.8 496.0,2034.9 498.0,2034.9 500.0,2034.8 502.0,2035.1 504.0,2034.7 506.0,2034.8 508.0,2034.8 510.0,2035.4 512.0,2034.7 514.0,2034.8 516.0,2036.0 518.0,2035.8 520.0,2035.5 522.0,2035.3 524.0,2035.9 526.0,2036.1 528.0,2035.5 530.0,2036.3 532.0,2035.6 534.0,2035.7 536.0,2035.8 538.0,2036.8 540.0,2035.8 542.0,2036.3 544.0,2036.0 546.0,2036.9 548.0,2037.1 550.0,2037.0 552.0,2036.6 554.0,2036.1 556.0,2036.8 558.0,2037.4 560.0,2036.9 562.0,2036.8 564.0,2037.4 566.0,2037.4 568.0,2037.0 570.0,2037.3 572.0,2036.7 574.0,2037.5 576.0,2037.7 578.0,2036.7 580.0,2037.0 582.0,2037.4 584.0,2037.7 586.0,2037.0 588.0,2036.9 590.0,2037.7 592.0,2036.9 594.0,2037.7 596.0,2036.9 598.0,2036.9 600.0,2037.8 602.0,2037.0 604.0,2037.0 606.0,2037.3 608.0,2037.4 610.0,2037.4 612.0,2037.5 614.0,2037.1 616.0,2037.7 618.0,2037.5 620.0,2037.3 622.0,2038.1 624.0,2037.3 626.0,2037.5 628.0,2038.1 630.0,2037.5 632.0,2037.6 634.0,2037.6 636.0,2037.9 638.0,2037.3 640.0,2037.4 642.0,2037.6 644.0,2037.3 646.0,2037.5 648.0,2037.2 650.0,2037.5 652.0,2037.7 654.0,2037.9 656.0,2037.1 658.0,2038.0 660.0,2038.1 662.0,2037.4 664.0,2037.2 666.0,2037.1 668.0,2037.1 670.0,2037.8 672.0,2037.6 674.0,2037.2 676.0,2037.4 678.0,2037.5 680.0,2037.0 682.0,2037.9 684.0,2037.9 686.0,2037.8 688.0,2037.6 690.0,2037.8 692.0,2037.9 694.0,2037.0 696.0,2037.1 698.0,2037.6 700.0,2037.2 702.0,2037.8 704.0,2037.5 706.0,2037.9 708.0,2037.1 710.0,2037.2 712.0,2037.8 714.0,2038.0 716.0,2037.5 718.0,2037.9 720.0,2037.2 722.0,2037.0 724.0,2037.9 726.0,2037.0 728.0,2037.5 730.0,2037.2 732.0,2036.9 734.0,2037.8 736.0,2037.8 738.0,2036.7 740.0,2037.0 742.0,2037.4 744.0,2037.3 746.0,2037.3 748.0,2037.6 750.0,2037.6 752.0,2037.6 754.0,2036.8 756.0,2037.4 758.0,2037.7 760.0,2036.8 762.0,2036.9 764.0,2037.0 766.0,2037.6 768.0,2036.9 770.0,2037.4 772.0,2037.2 774.0,2036.9 776.0,2036.8 778.0,2037.1 780.0,2037.5 782.0,2036.6 784.0,2036.5 786.0,2037.3 788.0,2036.6 790.0,2036.7 792.0,2037.5 794.0,2036.5 796.0,2037.2 798.0,2036.9 800.0,2037.6 802.0,2036.7 804.0,2037.4 806.0,2037.5 808.0,2036.5 810.0,2036.8 812.0,2036.7 814.0,2037.2 816.0,2036.6 818.0,2037.4 820.0,2037.3 822.0,2036.6 824.0,2036.9 826.0,2037.3 828.0,2037.4 830.0,2036.6 832.0,2036.5 834.0,2036.6 836.0,2037.0 838.0,2037.0 840.0,2037.3 842.0,2036.9 844.0,2036.9 846.0,2036.6 848.0,2037.1 850.0,2037.4 852.0,2037.0 854.0,2037.5 856.0,2037.4 858.0,2036.5 860.0,2036.7 862.0,2037.1 864.0,2036.8 866.0,2037.3 868.0,2037.3 870.0,2037.2 872.0,2036.6 874.0,2036.6 876.0,2037.6 878.0,2036.7 880.0,2036.7 882.0,2037.5 884.0,2037.5 886.0,2036.7 888.0,2036.8 890.0,2036.9 892.0,2037.5 894.0,2037.2 896.0,2037.1 898.0,2037.3 900.0,2037.4 902.0,2036.8 904.0,2036.8 906.0,2036.9 908.0,2036.8 910.0,2036.7 912.0,2036.6 914.0,2037.6 916.0,2036.6 918.0,2037.4 920.0,2037.6 922.0,2037.2 924.0,2036.9 926.0,2036.7 928.0,2037.5 930.0,2037.3 932.0,2037.2 934.0,2037.0 936.0,2036.6 938.0,2037.1 940.0,2036.8 942.0,2036.8 944.0,2037.3 946.0,2037.4 948.0,2037.2 950.0,2036.5 952.0,2036.8 954.0,2037.5 956.0,2036.6 958.0,2036.9 960.0,2036.6" fill="none" stroke="#1122ff" stroke-width="3.6" stroke-linejoin="round" stroke-linecap="round"/>
<polyline points="167.6,2089.0 169.6,2114.8 171.6,2136.1 173.6,2158.5 175.6,2181.8 177.6,2205.1 179.6,2220.3 181.6,2225.9 183.6,2228.7 185.6,2229.5 187.6,2230.5 189.6,2231.6 191.6,2233.5 193.6,2233.5 195.6,2235.8 197.6,2235.7 199.6,2236.4 201.6,2236.5 203.6,2237.6 205.6,2237.9 207.6,2238.1 209.6,2238.5 211.6,2238.9 213.6,2240.5 215.6,2240.1 217.6,2241.1 219.6,2241.2 221.6,2242.1 223.6,2243.5 225.6,2243.8 227.6,2244.5 229.6,2244.9 231.6,2246.3 233.6,2246.2 235.6,2247.4 237.6,2247.6 239.6,2248.4 241.6,2247.6 243.6,2248.7 245.6,2249.1 247.6,2250.7 249.6,2250.5 251.6,2251.7 253.6,2251.6 255.6,2252.4 257.6,2253.4 259.6,2253.4 261.6,2254.3 263.6,2254.3 265.6,2255.9 267.6,2255.8 269.6,2256.8 271.6,2257.0 273.6,2258.1 275.6,2258.5 277.6,2260.1 279.6,2259.0 281.6,2259.8 283.6,2261.3 285.6,2261.3 287.6,2262.0 289.6,2261.2 291.6,2263.2 293.6,2263.3 295.6,2263.0 297.6,2263.4 299.6,2264.2 301.6,2264.0 303.6,2264.6 305.6,2266.3 307.6,2266.0 309.6,2264.4 311.6,2263.1 313.6,2260.9 315.6,2260.7 317.6,2259.3 319.6,2258.3 321.6,2258.4 323.6,2259.4 325.6,2259.1 327.6,2259.1 329.6,2257.5 331.6,2257.0 333.6,2257.3 335.6,2257.5 337.6,2252.6 339.6,2238.6 341.6,2222.0 343.6,2218.4 345.6,2217.0 347.6,2216.0 349.6,2216.1 351.6,2216.8 353.6,2218.4 355.6,2218.3 357.6,2220.5 359.6,2220.1 361.6,2220.3 363.6,2221.2 365.6,2222.0 367.6,2223.0 369.6,2224.2 371.6,2225.4 373.6,2225.6 375.6,2226.5 377.6,2228.1 379.6,2228.0 381.6,2228.8 383.6,2230.3 385.6,2231.4 387.6,2231.3 389.6,2232.4 391.6,2232.9 393.6,2234.7 395.6,2235.4 397.6,2236.0 399.6,2237.0 401.6,2237.2 403.6,2237.9 405.6,2237.9 407.6,2238.5 409.6,2239.6 411.6,2239.0 413.6,2240.0 415.6,2240.4 417.6,2240.0 419.6,2240.6 421.6,2240.2 423.6,2241.1 425.6,2241.9 427.6,2240.9 429.6,2241.9 431.6,2243.0 433.6,2243.5 435.6,2243.6 437.6,2243.9 439.6,2243.1 441.6,2244.0 443.6,2242.7 445.6,2242.9 447.6,2244.5 449.6,2243.2 451.6,2243.2 453.6,2242.9 455.6,2244.4 457.6,2244.6 459.6,2243.4 461.6,2243.9 463.6,2244.7 465.6,2243.6 467.6,2243.4 469.6,2244.3 471.6,2243.5 473.6,2243.4 475.6,2244.8 477.6,2244.8 479.6,2243.7 481.6,2245.2 483.6,2244.4 485.6,2245.1 487.6,2244.2 489.6,2245.2 491.6,2244.4 493.6,2244.5 495.6,2245.2 497.6,2245.4 499.6,2245.7 501.6,2245.3 503.6,2245.0 505.6,2245.5 507.6,2244.6 509.6,2244.5 511.6,2245.1 513.6,2245.6 515.6,2245.4 517.6,2245.1 519.6,2244.9 521.6,2244.6 523.6,2244.4 525.6,2244.3 527.6,2245.7 529.6,2244.8 531.6,2244.6 533.6,2244.9 535.6,2245.4 537.6,2244.5 539.6,2245.0 541.6,2244.5 543.6,2245.4 545.6,2245.5 547.6,2244.0 549.6,2245.5 551.6,2244.2 553.6,2244.1 555.6,2244.0 557.6,2245.1 559.6,2244.8 561.6,2244.6 563.6,2244.3 565.6,2244.0 567.6,2243.8 569.6,2244.9 571.6,2244.8 573.6,2244.5 575.6,2245.4 577.6,2244.4 579.6,2244.9 581.6,2243.9 583.6,2245.0 585.6,2245.4 587.6,2245.3 589.6,2244.8 591.6,2244.9 593.6,2244.0 595.6,2245.3 597.6,2244.1 599.6,2244.9 601.6,2244.5 603.6,2245.2 605.6,2243.7 607.6,2244.7 609.6,2244.5 611.6,2244.2 613.6,2244.7 615.6,2244.8 617.6,2244.9 619.6,2243.7 621.6,2245.2 623.6,2244.8 625.6,2243.7 627.6,2244.8 629.6,2244.5 631.6,2244.1 633.6,2245.0 635.6,2245.1 637.6,2245.3 639.6,2245.1 641.6,2244.3 643.6,2244.1 645.6,2243.9 647.6,2244.7 649.6,2244.1 651.6,2244.0 653.6,2245.2 655.6,2243.6 657.6,2244.1 659.6,2244.3 661.6,2243.8 663.6,2244.0 665.6,2244.2 667.6,2244.8 669.6,2243.6 671.6,2243.6 673.6,2244.2 675.6,2244.9 677.6,2243.5 679.6,2244.0 681.6,2243.8 683.6,2244.3 685.6,2244.1 687.6,2243.9 689.6,2243.5 691.6,2243.7 693.6,2244.5 695.6,2244.5 697.6,2244.6 699.6,2243.5 701.6,2243.4 703.6,2244.5 705.6,2243.7 707.6,2244.7 709.6,2244.4 711.6,2243.8 713.6,2244.1 715.6,2244.1 717.6,2243.8 719.6,2244.8 721.6,2243.3 723.6,2243.7 725.6,2243.7 727.6,2244.9 729.6,2244.7 731.6,2244.7 733.6,2244.8 735.6,2243.6 737.6,2244.8 739.6,2244.0 741.6,2243.7 743.6,2243.6 745.6,2243.8 747.6,2244.2 749.6,2243.9 751.6,2244.5 753.6,2243.2 755.6,2244.0 757.6,2243.9 759.6,2243.5 761.6,2244.7 763.6,2243.7 765.6,2243.9 767.6,2244.1 769.6,2243.5 771.6,2244.3 773.6,2243.4 775.6,2243.6 777.6,2243.5 779.6,2244.9 781.6,2244.0 783.6,2243.3 785.6,2244.3 787.6,2244.2 789.6,2243.6 791.6,2243.2 793.6,2243.4 795.6,2244.0 797.6,2243.5 799.6,2244.2 801.6,2244.6 803.6,2243.9 805.6,2243.3 807.6,2244.6 809.6,2243.2 811.6,2243.8 813.6,2243.7 815.6,2244.2 817.6,2244.6 819.6,2243.3 821.6,2243.9 823.6,2243.4 825.6,2244.3 827.6,2244.7 829.6,2243.6 831.6,2244.3 833.6,2244.0 835.6,2244.5 837.6,2244.7 839.6,2243.8 841.6,2243.1 843.6,2243.2 845.6,2244.0 847.6,2243.9 849.6,2243.1 851.6,2243.2 853.6,2244.0 855.6,2243.6 857.6,2243.7 859.6,2244.4 861.6,2244.6 863.6,2244.2 865.6,2244.3 867.6,2244.2 869.6,2244.0 871.6,2243.2 873.6,2243.8 875.6,2243.9 877.6,2244.1 879.6,2244.6 881.6,2243.6 883.6,2243.2 885.6,2243.2 887.6,2243.3 889.6,2244.7 891.6,2243.5 893.6,2244.0 895.6,2244.2 897.6,2244.0 899.6,2243.3 901.6,2243.9 903.6,2244.6 905.6,2243.8 907.6,2243.4 909.6,2243.6 911.6,2243.3 913.6,2243.5 915.6,2244.4 917.6,2243.9 919.6,2243.2 921.6,2243.2 923.6,2243.2 925.6,2244.2 927.6,2243.0 929.6,2244.7 931.6,2243.4 933.6,2244.4 935.6,2244.3 937.6,2243.5 939.6,2243.2 941.6,2243.3 943.6,2243.8 945.6,2243.8 947.6,2243.1 949.6,2244.0 951.6,2244.7 953.6,2243.4 955.6,2243.7 957.6,2244.0 959.6,2243.2" fill="none" stroke="#3a3a3a" stroke-width="2.6" stroke-linejoin="round" stroke-linecap="round"/>
<rect x="165.0" y="1656.3" width="796.5" height="645.0" fill="none" stroke="#000" stroke-width="4.6"/>
<line x1="164.6" y1="2301.0" x2="164.6" y2="2313.5" stroke="#000" stroke-width="3.2"/>
<line x1="244.3" y1="2301.0" x2="244.3" y2="2306.5" stroke="#000" stroke-width="3.2"/>
<line x1="324.0" y1="2301.0" x2="324.0" y2="2313.5" stroke="#000" stroke-width="3.2"/>
<line x1="403.7" y1="2301.0" x2="403.7" y2="2306.5" stroke="#000" stroke-width="3.2"/>
<line x1="483.4" y1="2301.0" x2="483.4" y2="2313.5" stroke="#000" stroke-width="3.2"/>
<line x1="563.1" y1="2301.0" x2="563.1" y2="2306.5" stroke="#000" stroke-width="3.2"/>
<line x1="642.8" y1="2301.0" x2="642.8" y2="2313.5" stroke="#000" stroke-width="3.2"/>
<line x1="722.5" y1="2301.0" x2="722.5" y2="2306.5" stroke="#000" stroke-width="3.2"/>
<line x1="802.2" y1="2301.0" x2="802.2" y2="2313.5" stroke="#000" stroke-width="3.2"/>
<line x1="881.9" y1="2301.0" x2="881.9" y2="2306.5" stroke="#000" stroke-width="3.2"/>
<line x1="961.6" y1="2301.0" x2="961.6" y2="2313.5" stroke="#000" stroke-width="3.2"/>
<text x="164.6" y="2355.0" font-size="37.0" font-weight="normal" text-anchor="middle" fill="#000" textLength="19.5" lengthAdjust="spacingAndGlyphs">0</text>
<text x="324.0" y="2355.0" font-size="37.0" font-weight="normal" text-anchor="middle" fill="#000" textLength="19.5" lengthAdjust="spacingAndGlyphs">2</text>
<text x="483.4" y="2355.0" font-size="37.0" font-weight="normal" text-anchor="middle" fill="#000" textLength="19.5" lengthAdjust="spacingAndGlyphs">4</text>
<text x="642.8" y="2355.0" font-size="37.0" font-weight="normal" text-anchor="middle" fill="#000" textLength="19.5" lengthAdjust="spacingAndGlyphs">6</text>
<text x="802.2" y="2355.0" font-size="37.0" font-weight="normal" text-anchor="middle" fill="#000" textLength="19.5" lengthAdjust="spacingAndGlyphs">8</text>
<text x="961.6" y="2355.0" font-size="37.0" font-weight="normal" text-anchor="middle" fill="#000" textLength="38.0" lengthAdjust="spacingAndGlyphs">10</text>
<text x="646.5" y="1816.4" font-size="57.0" font-weight="bold" text-anchor="start" fill="#000" textLength="151.0" lengthAdjust="spacingAndGlyphs">MSNs</text>
<text x="575.0" y="1955.7" font-size="57.0" font-weight="bold" text-anchor="start" fill="#000" textLength="294.0" lengthAdjust="spacingAndGlyphs">MSNs/HAP</text>
<text x="513.0" y="2147.0" font-size="57.0" font-weight="bold" text-anchor="start" fill="#000" textLength="396.0" lengthAdjust="spacingAndGlyphs">MSNs/HAP-NH</text>
<text x="914.0" y="2160.5" font-size="37.0" font-weight="bold" text-anchor="start" fill="#000" textLength="21.0" lengthAdjust="spacingAndGlyphs">2</text>
<text x="452.5" y="2434.2" font-size="52.0" font-weight="bold" text-anchor="start" fill="#000" textLength="223.0" lengthAdjust="spacingAndGlyphs">2θ/degree</text>
<text transform="translate(132.6 2131.0) rotate(-90)" x="0" y="0" font-size="56.5" font-weight="bold" text-anchor="start" fill="#000" textLength="307.0" lengthAdjust="spacingAndGlyphs">Intensity/a.u.</text>
</svg>
</body></html>
